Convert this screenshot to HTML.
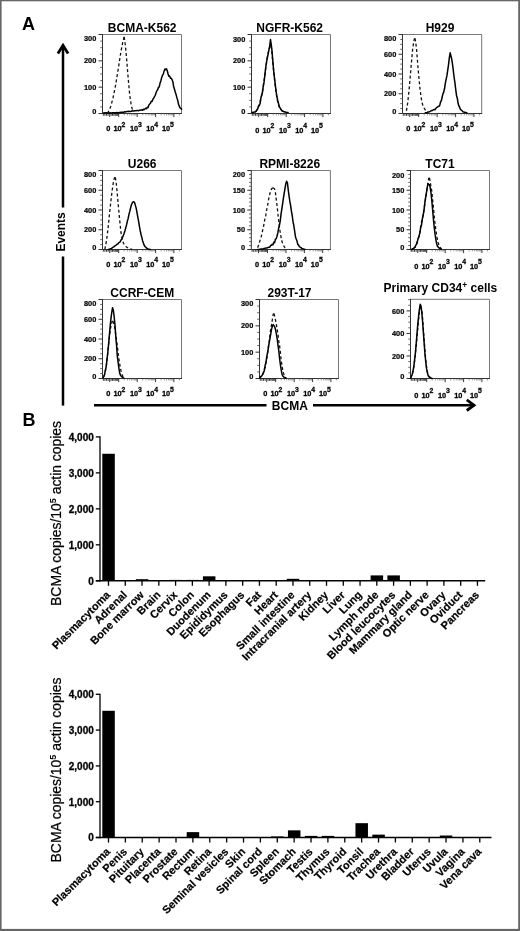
<!DOCTYPE html>
<html lang="en"><head><meta charset="utf-8"><title>BCMA expression figure</title>
<style>html,body{margin:0;padding:0;background:#fff;}svg{display:block;}</style></head>
<body>
<svg width="520" height="931" viewBox="0 0 520 931" font-family='"Liberation Sans", Arial, Helvetica, sans-serif' fill="#000">
<rect x="0" y="0" width="520" height="931" fill="#fff"/>
<text x="22" y="30.3" font-size="18" font-weight="bold">A</text>
<text x="22.4" y="426.1" font-size="18" font-weight="bold">B</text>
<g stroke="#000" fill="none" stroke-width="2.5"><line x1="63" y1="45.5" x2="63" y2="207.5"/><line x1="63" y1="256.5" x2="63" y2="405.6"/><polyline points="57.9,53.4 63,45.4 68.1,53.4" stroke-width="2.8" stroke-linejoin="miter"/></g>
<text transform="translate(65.1 251.6) rotate(-90)" font-size="12" font-weight="bold">Events</text>
<g stroke="#000" fill="none" stroke-width="2.4"><line x1="94" y1="405.2" x2="266.5" y2="405.2"/><line x1="313" y1="405.2" x2="474.5" y2="405.2"/><polyline points="466.8,399.9 474.0,405.2 466.8,410.5" stroke-width="2.8" stroke-linejoin="miter"/></g>
<text x="289.8" y="409.6" text-anchor="middle" font-size="12" font-weight="bold">BCMA</text>
<g><text x="142.2" y="31.9" text-anchor="middle" font-size="12" font-weight="bold">BCMA-K562</text>
<path d="M102.5 34.5H181.5V113.5" fill="none" stroke="#777" stroke-width="1"/>
<path d="M102.5 34V113.5H182" fill="none" stroke="#333" stroke-width="1"/>
<text x="96.3" y="113.9" text-anchor="end" font-size="7.4" font-weight="bold" stroke="#000" stroke-width="0.2">0</text>
<line x1="98.5" y1="113.5" x2="102.5" y2="113.5" stroke="#333" stroke-width="1"/>
<text x="96.3" y="89.77" text-anchor="end" font-size="7.4" font-weight="bold" stroke="#000" stroke-width="0.2">100</text>
<line x1="98.5" y1="87.17" x2="102.5" y2="87.17" stroke="#333" stroke-width="1"/>
<text x="96.3" y="63.44" text-anchor="end" font-size="7.4" font-weight="bold" stroke="#000" stroke-width="0.2">200</text>
<line x1="98.5" y1="60.84" x2="102.5" y2="60.84" stroke="#333" stroke-width="1"/>
<text x="96.3" y="40.71" text-anchor="end" font-size="7.4" font-weight="bold" stroke="#000" stroke-width="0.2">300</text>
<line x1="98.5" y1="34.51" x2="102.5" y2="34.51" stroke="#333" stroke-width="1"/>
<line x1="100.2" y1="106.92" x2="102.5" y2="106.92" stroke="#444" stroke-width="0.8"/>
<line x1="100.2" y1="100.34" x2="102.5" y2="100.34" stroke="#444" stroke-width="0.8"/>
<line x1="100.2" y1="93.75" x2="102.5" y2="93.75" stroke="#444" stroke-width="0.8"/>
<line x1="100.2" y1="80.59" x2="102.5" y2="80.59" stroke="#444" stroke-width="0.8"/>
<line x1="100.2" y1="74.01" x2="102.5" y2="74.01" stroke="#444" stroke-width="0.8"/>
<line x1="100.2" y1="67.42" x2="102.5" y2="67.42" stroke="#444" stroke-width="0.8"/>
<line x1="100.2" y1="54.26" x2="102.5" y2="54.26" stroke="#444" stroke-width="0.8"/>
<line x1="100.2" y1="47.68" x2="102.5" y2="47.68" stroke="#444" stroke-width="0.8"/>
<line x1="100.2" y1="41.09" x2="102.5" y2="41.09" stroke="#444" stroke-width="0.8"/>
<line x1="109.7" y1="113.5" x2="109.7" y2="117.1" stroke="#222" stroke-width="0.9"/>
<line x1="118.7" y1="113.5" x2="118.7" y2="117.1" stroke="#222" stroke-width="0.9"/>
<line x1="137.2" y1="113.5" x2="137.2" y2="117.1" stroke="#222" stroke-width="0.9"/>
<line x1="155.6" y1="113.5" x2="155.6" y2="117.1" stroke="#222" stroke-width="0.9"/>
<line x1="173.9" y1="113.5" x2="173.9" y2="117.1" stroke="#222" stroke-width="0.9"/>
<line x1="103.3" y1="113.5" x2="103.3" y2="115.8" stroke="#222" stroke-width="0.9"/>
<line x1="104.9" y1="113.5" x2="104.9" y2="115.8" stroke="#222" stroke-width="0.9"/>
<line x1="106.5" y1="113.5" x2="106.5" y2="115.8" stroke="#222" stroke-width="0.9"/>
<line x1="108.1" y1="113.5" x2="108.1" y2="115.8" stroke="#222" stroke-width="0.9"/>
<line x1="111.1" y1="113.5" x2="111.1" y2="115.8" stroke="#222" stroke-width="0.9"/>
<line x1="112.5" y1="113.5" x2="112.5" y2="115.8" stroke="#222" stroke-width="0.9"/>
<line x1="113.9" y1="113.5" x2="113.9" y2="115.8" stroke="#222" stroke-width="0.9"/>
<line x1="115.1" y1="113.5" x2="115.1" y2="115.8" stroke="#222" stroke-width="0.9"/>
<line x1="116.1" y1="113.5" x2="116.1" y2="115.8" stroke="#222" stroke-width="0.9"/>
<line x1="117" y1="113.5" x2="117" y2="115.8" stroke="#222" stroke-width="0.9"/>
<line x1="117.9" y1="113.5" x2="117.9" y2="115.8" stroke="#222" stroke-width="0.9"/>
<line x1="124.21" y1="113.5" x2="124.21" y2="115.4" stroke="#555" stroke-width="0.6"/>
<line x1="127.43" y1="113.5" x2="127.43" y2="115.4" stroke="#555" stroke-width="0.6"/>
<line x1="129.72" y1="113.5" x2="129.72" y2="115.4" stroke="#555" stroke-width="0.6"/>
<line x1="131.49" y1="113.5" x2="131.49" y2="115.4" stroke="#555" stroke-width="0.6"/>
<line x1="132.94" y1="113.5" x2="132.94" y2="115.4" stroke="#555" stroke-width="0.6"/>
<line x1="134.17" y1="113.5" x2="134.17" y2="115.4" stroke="#555" stroke-width="0.6"/>
<line x1="135.23" y1="113.5" x2="135.23" y2="115.4" stroke="#555" stroke-width="0.6"/>
<line x1="136.16" y1="113.5" x2="136.16" y2="115.4" stroke="#555" stroke-width="0.6"/>
<line x1="142.71" y1="113.5" x2="142.71" y2="115.4" stroke="#555" stroke-width="0.6"/>
<line x1="145.93" y1="113.5" x2="145.93" y2="115.4" stroke="#555" stroke-width="0.6"/>
<line x1="148.22" y1="113.5" x2="148.22" y2="115.4" stroke="#555" stroke-width="0.6"/>
<line x1="149.99" y1="113.5" x2="149.99" y2="115.4" stroke="#555" stroke-width="0.6"/>
<line x1="151.44" y1="113.5" x2="151.44" y2="115.4" stroke="#555" stroke-width="0.6"/>
<line x1="152.67" y1="113.5" x2="152.67" y2="115.4" stroke="#555" stroke-width="0.6"/>
<line x1="153.73" y1="113.5" x2="153.73" y2="115.4" stroke="#555" stroke-width="0.6"/>
<line x1="154.66" y1="113.5" x2="154.66" y2="115.4" stroke="#555" stroke-width="0.6"/>
<line x1="161.11" y1="113.5" x2="161.11" y2="115.4" stroke="#555" stroke-width="0.6"/>
<line x1="164.33" y1="113.5" x2="164.33" y2="115.4" stroke="#555" stroke-width="0.6"/>
<line x1="166.62" y1="113.5" x2="166.62" y2="115.4" stroke="#555" stroke-width="0.6"/>
<line x1="168.39" y1="113.5" x2="168.39" y2="115.4" stroke="#555" stroke-width="0.6"/>
<line x1="169.84" y1="113.5" x2="169.84" y2="115.4" stroke="#555" stroke-width="0.6"/>
<line x1="171.07" y1="113.5" x2="171.07" y2="115.4" stroke="#555" stroke-width="0.6"/>
<line x1="172.13" y1="113.5" x2="172.13" y2="115.4" stroke="#555" stroke-width="0.6"/>
<line x1="173.06" y1="113.5" x2="173.06" y2="115.4" stroke="#555" stroke-width="0.6"/>
<line x1="179.41" y1="113.5" x2="179.41" y2="115.4" stroke="#555" stroke-width="0.6"/>
<text transform="translate(108.3 131) scale(1.06 1)" text-anchor="middle" font-size="7" font-weight="bold" stroke="#000" stroke-width="0.25">0</text>
<text transform="translate(117.5 131) scale(1.06 1)" text-anchor="middle" font-size="7" font-weight="bold" stroke="#000" stroke-width="0.25">10</text>
<text transform="translate(123.4 127) scale(1.06 1)" text-anchor="middle" font-size="6.5" font-weight="bold" stroke="#000" stroke-width="0.25">2</text>
<text transform="translate(134 131) scale(1.06 1)" text-anchor="middle" font-size="7" font-weight="bold" stroke="#000" stroke-width="0.25">10</text>
<text transform="translate(139.9 127) scale(1.06 1)" text-anchor="middle" font-size="6.5" font-weight="bold" stroke="#000" stroke-width="0.25">3</text>
<text transform="translate(150.3 131) scale(1.06 1)" text-anchor="middle" font-size="7" font-weight="bold" stroke="#000" stroke-width="0.25">10</text>
<text transform="translate(156.2 127) scale(1.06 1)" text-anchor="middle" font-size="6.5" font-weight="bold" stroke="#000" stroke-width="0.25">4</text>
<text transform="translate(166.1 131) scale(1.06 1)" text-anchor="middle" font-size="7" font-weight="bold" stroke="#000" stroke-width="0.25">10</text>
<text transform="translate(172 127) scale(1.06 1)" text-anchor="middle" font-size="6.5" font-weight="bold" stroke="#000" stroke-width="0.25">5</text>
<path d="M124.17 36.94 L123.37 39.98 L122.57 43.02 L121.77 47.3 L120.97 51.61 L120.17 56.25 L119.37 61.58 L118.57 66.92 L117.77 72.11 L116.97 76.91 L116.17 81.71 L115.37 86.36 L114.57 90.36 L113.77 94.36 L112.97 98.22 L112.17 101.15 L111.37 104.08 L110.57 106.94 L109.77 108.7 L108.97 110.46 L108.17 112.22" fill="none" stroke="#111" stroke-width="1.3" stroke-dasharray="3 2.4" stroke-linejoin="round"/>
<path d="M124.17 36.94 L124.97 42.22 L125.77 49.62 L126.57 58.62 L127.37 68.33 L128.17 78.04 L128.97 86.84 L129.77 95.53 L130.57 100.73 L131.37 105.93 L132.17 108.67 L132.97 110.73 L133.77 111.61" fill="none" stroke="#111" stroke-width="1.3" stroke-dasharray="3 2.4" stroke-linejoin="round"/>
<path d="M103.27 112.91 L104.07 112.93 L104.87 112.83 L105.67 112.93 L106.47 112.83 L107.27 112.86 L108.07 112.91 L108.87 112.81 L109.67 112.9 L110.47 112.81 L111.27 112.88 L112.07 112.87 L112.87 112.78 L113.67 112.69 L114.47 112.84 L115.27 112.8 L116.07 112.7 L116.87 112.62 L117.67 112.7 L118.47 112.68 L119.27 112.41 L120.07 112.59 L120.87 112.23 L121.67 112.33 L122.47 112.29 L123.27 112.22 L124.07 112.04 L124.87 111.69 L125.67 111.9 L126.47 111.57 L127.27 111.42 L128.07 111.47 L128.87 111.24 L129.67 111.47 L130.47 111.38 L131.27 111.23 L132.07 110.82 L132.87 110.96 L133.67 111 L134.47 110.73 L135.27 110.78 L136.07 110.86 L136.87 110.38 L137.67 110.4 L138.47 110.73 L139.27 110.35 L140.07 110.32 L140.87 109.89 L141.67 109.95 L142.47 110.32 L143.27 109.18 L144.07 109.82 L144.87 109.07 L145.67 108.19 L146.47 108.75 L147.27 107.37 L148.07 107.41 L148.87 105.11 L149.67 103.95 L150.47 103.28 L151.27 101.35 L152.07 101.5 L152.87 99.39 L153.67 98.16 L154.47 96.59 L155.27 95.29 L156.07 92.77 L156.87 90.68 L157.67 89.81 L158.47 87.35 L159.27 86.8 L160.07 83.06 L160.87 80.79 L161.67 77.56 L162.47 75.45 L163.27 74.07 L164.07 71.17 L164.87 68.98 L165.67 69.64 L166.47 68.83 L167.27 70.7 L168.07 74.02 L168.87 76.17 L169.67 75.91 L170.47 78.17 L171.27 78.21 L172.07 79.79 L172.87 81.68 L173.67 86.78 L174.47 89.22 L175.27 92.29 L176.07 94.48 L176.87 97.64 L177.67 100.18 L178.47 104.05 L179.27 106.17 L180.07 107.84 L180.87 108.69 L181.67 109.13" fill="none" stroke="#000" stroke-width="1.5" stroke-linejoin="round" stroke-linecap="round"/></g>
<g><text x="289.7" y="31.9" text-anchor="middle" font-size="12" font-weight="bold">NGFR-K562</text>
<path d="M251.5 34.5H330.5V113.5" fill="none" stroke="#777" stroke-width="1"/>
<path d="M251.5 34V113.5H331" fill="none" stroke="#333" stroke-width="1"/>
<text x="245.3" y="113.9" text-anchor="end" font-size="7.4" font-weight="bold" stroke="#000" stroke-width="0.2">0</text>
<line x1="247.5" y1="113.5" x2="251.5" y2="113.5" stroke="#333" stroke-width="1"/>
<text x="245.3" y="89.77" text-anchor="end" font-size="7.4" font-weight="bold" stroke="#000" stroke-width="0.2">100</text>
<line x1="247.5" y1="87.17" x2="251.5" y2="87.17" stroke="#333" stroke-width="1"/>
<text x="245.3" y="63.44" text-anchor="end" font-size="7.4" font-weight="bold" stroke="#000" stroke-width="0.2">200</text>
<line x1="247.5" y1="60.84" x2="251.5" y2="60.84" stroke="#333" stroke-width="1"/>
<text x="245.3" y="42.11" text-anchor="end" font-size="7.4" font-weight="bold" stroke="#000" stroke-width="0.2">300</text>
<line x1="247.5" y1="34.51" x2="251.5" y2="34.51" stroke="#333" stroke-width="1"/>
<line x1="249.2" y1="106.92" x2="251.5" y2="106.92" stroke="#444" stroke-width="0.8"/>
<line x1="249.2" y1="100.34" x2="251.5" y2="100.34" stroke="#444" stroke-width="0.8"/>
<line x1="249.2" y1="93.75" x2="251.5" y2="93.75" stroke="#444" stroke-width="0.8"/>
<line x1="249.2" y1="80.59" x2="251.5" y2="80.59" stroke="#444" stroke-width="0.8"/>
<line x1="249.2" y1="74.01" x2="251.5" y2="74.01" stroke="#444" stroke-width="0.8"/>
<line x1="249.2" y1="67.42" x2="251.5" y2="67.42" stroke="#444" stroke-width="0.8"/>
<line x1="249.2" y1="54.26" x2="251.5" y2="54.26" stroke="#444" stroke-width="0.8"/>
<line x1="249.2" y1="47.68" x2="251.5" y2="47.68" stroke="#444" stroke-width="0.8"/>
<line x1="249.2" y1="41.09" x2="251.5" y2="41.09" stroke="#444" stroke-width="0.8"/>
<line x1="258.7" y1="113.5" x2="258.7" y2="117.1" stroke="#222" stroke-width="0.9"/>
<line x1="267.7" y1="113.5" x2="267.7" y2="117.1" stroke="#222" stroke-width="0.9"/>
<line x1="286.2" y1="113.5" x2="286.2" y2="117.1" stroke="#222" stroke-width="0.9"/>
<line x1="304.6" y1="113.5" x2="304.6" y2="117.1" stroke="#222" stroke-width="0.9"/>
<line x1="322.9" y1="113.5" x2="322.9" y2="117.1" stroke="#222" stroke-width="0.9"/>
<line x1="252.3" y1="113.5" x2="252.3" y2="115.8" stroke="#222" stroke-width="0.9"/>
<line x1="253.9" y1="113.5" x2="253.9" y2="115.8" stroke="#222" stroke-width="0.9"/>
<line x1="255.5" y1="113.5" x2="255.5" y2="115.8" stroke="#222" stroke-width="0.9"/>
<line x1="257.1" y1="113.5" x2="257.1" y2="115.8" stroke="#222" stroke-width="0.9"/>
<line x1="260.1" y1="113.5" x2="260.1" y2="115.8" stroke="#222" stroke-width="0.9"/>
<line x1="261.5" y1="113.5" x2="261.5" y2="115.8" stroke="#222" stroke-width="0.9"/>
<line x1="262.9" y1="113.5" x2="262.9" y2="115.8" stroke="#222" stroke-width="0.9"/>
<line x1="264.1" y1="113.5" x2="264.1" y2="115.8" stroke="#222" stroke-width="0.9"/>
<line x1="265.1" y1="113.5" x2="265.1" y2="115.8" stroke="#222" stroke-width="0.9"/>
<line x1="266" y1="113.5" x2="266" y2="115.8" stroke="#222" stroke-width="0.9"/>
<line x1="266.9" y1="113.5" x2="266.9" y2="115.8" stroke="#222" stroke-width="0.9"/>
<line x1="273.21" y1="113.5" x2="273.21" y2="115.4" stroke="#555" stroke-width="0.6"/>
<line x1="276.43" y1="113.5" x2="276.43" y2="115.4" stroke="#555" stroke-width="0.6"/>
<line x1="278.72" y1="113.5" x2="278.72" y2="115.4" stroke="#555" stroke-width="0.6"/>
<line x1="280.49" y1="113.5" x2="280.49" y2="115.4" stroke="#555" stroke-width="0.6"/>
<line x1="281.94" y1="113.5" x2="281.94" y2="115.4" stroke="#555" stroke-width="0.6"/>
<line x1="283.17" y1="113.5" x2="283.17" y2="115.4" stroke="#555" stroke-width="0.6"/>
<line x1="284.23" y1="113.5" x2="284.23" y2="115.4" stroke="#555" stroke-width="0.6"/>
<line x1="285.16" y1="113.5" x2="285.16" y2="115.4" stroke="#555" stroke-width="0.6"/>
<line x1="291.71" y1="113.5" x2="291.71" y2="115.4" stroke="#555" stroke-width="0.6"/>
<line x1="294.93" y1="113.5" x2="294.93" y2="115.4" stroke="#555" stroke-width="0.6"/>
<line x1="297.22" y1="113.5" x2="297.22" y2="115.4" stroke="#555" stroke-width="0.6"/>
<line x1="298.99" y1="113.5" x2="298.99" y2="115.4" stroke="#555" stroke-width="0.6"/>
<line x1="300.44" y1="113.5" x2="300.44" y2="115.4" stroke="#555" stroke-width="0.6"/>
<line x1="301.67" y1="113.5" x2="301.67" y2="115.4" stroke="#555" stroke-width="0.6"/>
<line x1="302.73" y1="113.5" x2="302.73" y2="115.4" stroke="#555" stroke-width="0.6"/>
<line x1="303.66" y1="113.5" x2="303.66" y2="115.4" stroke="#555" stroke-width="0.6"/>
<line x1="310.11" y1="113.5" x2="310.11" y2="115.4" stroke="#555" stroke-width="0.6"/>
<line x1="313.33" y1="113.5" x2="313.33" y2="115.4" stroke="#555" stroke-width="0.6"/>
<line x1="315.62" y1="113.5" x2="315.62" y2="115.4" stroke="#555" stroke-width="0.6"/>
<line x1="317.39" y1="113.5" x2="317.39" y2="115.4" stroke="#555" stroke-width="0.6"/>
<line x1="318.84" y1="113.5" x2="318.84" y2="115.4" stroke="#555" stroke-width="0.6"/>
<line x1="320.07" y1="113.5" x2="320.07" y2="115.4" stroke="#555" stroke-width="0.6"/>
<line x1="321.13" y1="113.5" x2="321.13" y2="115.4" stroke="#555" stroke-width="0.6"/>
<line x1="322.06" y1="113.5" x2="322.06" y2="115.4" stroke="#555" stroke-width="0.6"/>
<line x1="328.41" y1="113.5" x2="328.41" y2="115.4" stroke="#555" stroke-width="0.6"/>
<text transform="translate(257.3 133.1) scale(1.06 1)" text-anchor="middle" font-size="7" font-weight="bold" stroke="#000" stroke-width="0.25">0</text>
<text transform="translate(266.5 133.1) scale(1.06 1)" text-anchor="middle" font-size="7" font-weight="bold" stroke="#000" stroke-width="0.25">10</text>
<text transform="translate(272.4 127.9) scale(1.06 1)" text-anchor="middle" font-size="6.5" font-weight="bold" stroke="#000" stroke-width="0.25">2</text>
<text transform="translate(283 133.1) scale(1.06 1)" text-anchor="middle" font-size="7" font-weight="bold" stroke="#000" stroke-width="0.25">10</text>
<text transform="translate(288.9 127.9) scale(1.06 1)" text-anchor="middle" font-size="6.5" font-weight="bold" stroke="#000" stroke-width="0.25">3</text>
<text transform="translate(299.3 133.1) scale(1.06 1)" text-anchor="middle" font-size="7" font-weight="bold" stroke="#000" stroke-width="0.25">10</text>
<text transform="translate(305.2 127.9) scale(1.06 1)" text-anchor="middle" font-size="6.5" font-weight="bold" stroke="#000" stroke-width="0.25">4</text>
<text transform="translate(315.1 133.1) scale(1.06 1)" text-anchor="middle" font-size="7" font-weight="bold" stroke="#000" stroke-width="0.25">10</text>
<text transform="translate(321 127.9) scale(1.06 1)" text-anchor="middle" font-size="6.5" font-weight="bold" stroke="#000" stroke-width="0.25">5</text>
<path d="M270.49 46.46 L269.69 47.05 L268.89 49.97 L268.09 53.32 L267.29 57.2 L266.49 62.89 L265.69 68.24 L264.89 75.29 L264.09 80.3 L263.29 86.39 L262.49 91.04 L261.69 95.07 L260.89 98.56 L260.09 101.85 L259.29 104.83 L258.49 107.19 L257.69 109.07 L256.89 110.23 L256.09 111.39 L255.29 111.69 L254.49 112.03 L253.69 112.27 L252.89 112.52 L252.09 112.77" fill="none" stroke="#111" stroke-width="1.3" stroke-dasharray="3 2.4" stroke-linejoin="round"/>
<path d="M270.49 46.46 L271.29 46.79 L272.09 54.7 L272.89 62.61 L273.69 71.39 L274.49 78.98 L275.29 85.89 L276.09 92.3 L276.89 97.99 L277.69 101.57 L278.49 104.74 L279.29 106.38 L280.09 108.7 L280.89 108.84 L281.69 110.06 L282.49 111.16 L283.29 111.44 L284.09 111.74 L284.89 112.08 L285.69 112.48" fill="none" stroke="#111" stroke-width="1.3" stroke-dasharray="3 2.4" stroke-linejoin="round"/>
<path d="M252.09 112.63 L252.89 112.32 L253.69 112.24 L254.49 112 L255.29 111.97 L256.09 111.08 L256.89 109.87 L257.69 108.97 L258.49 105.98 L259.29 105.33 L260.09 103.53 L260.89 97.95 L261.69 95.27 L262.49 92.28 L263.29 86 L264.09 81.9 L264.89 74.92 L265.69 67.84 L266.49 62.38 L267.29 57.98 L268.09 54.37 L268.89 50.12 L269.69 46.05 L270.49 39.6 L271.29 44.94 L272.09 51.71 L272.89 61.92 L273.69 71.18 L274.49 78.02 L275.29 84.8 L276.09 91.42 L276.89 96.33 L277.69 100.4 L278.49 103.26 L279.29 107.07 L280.09 107.88 L280.89 109.33 L281.69 110.67 L282.49 111.08 L283.29 111.32 L284.09 111.78 L284.89 112 L285.69 112.07 L286.49 112.42 L287.29 112.44 L288.09 112.6" fill="none" stroke="#000" stroke-width="1.5" stroke-linejoin="round" stroke-linecap="round"/></g>
<g><text x="440" y="31.9" text-anchor="middle" font-size="12" font-weight="bold">H929</text>
<path d="M402.5 34.5H481.7V113.5" fill="none" stroke="#777" stroke-width="1"/>
<path d="M402.5 34V113.5H482.2" fill="none" stroke="#333" stroke-width="1"/>
<text x="396.3" y="113.9" text-anchor="end" font-size="7.4" font-weight="bold" stroke="#000" stroke-width="0.2">0</text>
<line x1="398.5" y1="113.5" x2="402.5" y2="113.5" stroke="#333" stroke-width="1"/>
<text x="396.3" y="96.35" text-anchor="end" font-size="7.4" font-weight="bold" stroke="#000" stroke-width="0.2">200</text>
<line x1="398.5" y1="93.75" x2="402.5" y2="93.75" stroke="#333" stroke-width="1"/>
<text x="396.3" y="76.6" text-anchor="end" font-size="7.4" font-weight="bold" stroke="#000" stroke-width="0.2">400</text>
<line x1="398.5" y1="74" x2="402.5" y2="74" stroke="#333" stroke-width="1"/>
<text x="396.3" y="56.85" text-anchor="end" font-size="7.4" font-weight="bold" stroke="#000" stroke-width="0.2">600</text>
<line x1="398.5" y1="54.25" x2="402.5" y2="54.25" stroke="#333" stroke-width="1"/>
<text x="396.3" y="40.7" text-anchor="end" font-size="7.4" font-weight="bold" stroke="#000" stroke-width="0.2">800</text>
<line x1="398.5" y1="34.5" x2="402.5" y2="34.5" stroke="#333" stroke-width="1"/>
<line x1="400.2" y1="108.56" x2="402.5" y2="108.56" stroke="#444" stroke-width="0.8"/>
<line x1="400.2" y1="103.62" x2="402.5" y2="103.62" stroke="#444" stroke-width="0.8"/>
<line x1="400.2" y1="98.69" x2="402.5" y2="98.69" stroke="#444" stroke-width="0.8"/>
<line x1="400.2" y1="88.81" x2="402.5" y2="88.81" stroke="#444" stroke-width="0.8"/>
<line x1="400.2" y1="83.88" x2="402.5" y2="83.88" stroke="#444" stroke-width="0.8"/>
<line x1="400.2" y1="78.94" x2="402.5" y2="78.94" stroke="#444" stroke-width="0.8"/>
<line x1="400.2" y1="69.06" x2="402.5" y2="69.06" stroke="#444" stroke-width="0.8"/>
<line x1="400.2" y1="64.12" x2="402.5" y2="64.12" stroke="#444" stroke-width="0.8"/>
<line x1="400.2" y1="59.19" x2="402.5" y2="59.19" stroke="#444" stroke-width="0.8"/>
<line x1="400.2" y1="49.31" x2="402.5" y2="49.31" stroke="#444" stroke-width="0.8"/>
<line x1="400.2" y1="44.38" x2="402.5" y2="44.38" stroke="#444" stroke-width="0.8"/>
<line x1="400.2" y1="39.44" x2="402.5" y2="39.44" stroke="#444" stroke-width="0.8"/>
<line x1="409.7" y1="113.5" x2="409.7" y2="117.1" stroke="#222" stroke-width="0.9"/>
<line x1="418.7" y1="113.5" x2="418.7" y2="117.1" stroke="#222" stroke-width="0.9"/>
<line x1="437.2" y1="113.5" x2="437.2" y2="117.1" stroke="#222" stroke-width="0.9"/>
<line x1="455.6" y1="113.5" x2="455.6" y2="117.1" stroke="#222" stroke-width="0.9"/>
<line x1="473.9" y1="113.5" x2="473.9" y2="117.1" stroke="#222" stroke-width="0.9"/>
<line x1="403.3" y1="113.5" x2="403.3" y2="115.8" stroke="#222" stroke-width="0.9"/>
<line x1="404.9" y1="113.5" x2="404.9" y2="115.8" stroke="#222" stroke-width="0.9"/>
<line x1="406.5" y1="113.5" x2="406.5" y2="115.8" stroke="#222" stroke-width="0.9"/>
<line x1="408.1" y1="113.5" x2="408.1" y2="115.8" stroke="#222" stroke-width="0.9"/>
<line x1="411.1" y1="113.5" x2="411.1" y2="115.8" stroke="#222" stroke-width="0.9"/>
<line x1="412.5" y1="113.5" x2="412.5" y2="115.8" stroke="#222" stroke-width="0.9"/>
<line x1="413.9" y1="113.5" x2="413.9" y2="115.8" stroke="#222" stroke-width="0.9"/>
<line x1="415.1" y1="113.5" x2="415.1" y2="115.8" stroke="#222" stroke-width="0.9"/>
<line x1="416.1" y1="113.5" x2="416.1" y2="115.8" stroke="#222" stroke-width="0.9"/>
<line x1="417" y1="113.5" x2="417" y2="115.8" stroke="#222" stroke-width="0.9"/>
<line x1="417.9" y1="113.5" x2="417.9" y2="115.8" stroke="#222" stroke-width="0.9"/>
<line x1="424.21" y1="113.5" x2="424.21" y2="115.4" stroke="#555" stroke-width="0.6"/>
<line x1="427.43" y1="113.5" x2="427.43" y2="115.4" stroke="#555" stroke-width="0.6"/>
<line x1="429.72" y1="113.5" x2="429.72" y2="115.4" stroke="#555" stroke-width="0.6"/>
<line x1="431.49" y1="113.5" x2="431.49" y2="115.4" stroke="#555" stroke-width="0.6"/>
<line x1="432.94" y1="113.5" x2="432.94" y2="115.4" stroke="#555" stroke-width="0.6"/>
<line x1="434.17" y1="113.5" x2="434.17" y2="115.4" stroke="#555" stroke-width="0.6"/>
<line x1="435.23" y1="113.5" x2="435.23" y2="115.4" stroke="#555" stroke-width="0.6"/>
<line x1="436.16" y1="113.5" x2="436.16" y2="115.4" stroke="#555" stroke-width="0.6"/>
<line x1="442.71" y1="113.5" x2="442.71" y2="115.4" stroke="#555" stroke-width="0.6"/>
<line x1="445.93" y1="113.5" x2="445.93" y2="115.4" stroke="#555" stroke-width="0.6"/>
<line x1="448.22" y1="113.5" x2="448.22" y2="115.4" stroke="#555" stroke-width="0.6"/>
<line x1="449.99" y1="113.5" x2="449.99" y2="115.4" stroke="#555" stroke-width="0.6"/>
<line x1="451.44" y1="113.5" x2="451.44" y2="115.4" stroke="#555" stroke-width="0.6"/>
<line x1="452.67" y1="113.5" x2="452.67" y2="115.4" stroke="#555" stroke-width="0.6"/>
<line x1="453.73" y1="113.5" x2="453.73" y2="115.4" stroke="#555" stroke-width="0.6"/>
<line x1="454.66" y1="113.5" x2="454.66" y2="115.4" stroke="#555" stroke-width="0.6"/>
<line x1="461.11" y1="113.5" x2="461.11" y2="115.4" stroke="#555" stroke-width="0.6"/>
<line x1="464.33" y1="113.5" x2="464.33" y2="115.4" stroke="#555" stroke-width="0.6"/>
<line x1="466.62" y1="113.5" x2="466.62" y2="115.4" stroke="#555" stroke-width="0.6"/>
<line x1="468.39" y1="113.5" x2="468.39" y2="115.4" stroke="#555" stroke-width="0.6"/>
<line x1="469.84" y1="113.5" x2="469.84" y2="115.4" stroke="#555" stroke-width="0.6"/>
<line x1="471.07" y1="113.5" x2="471.07" y2="115.4" stroke="#555" stroke-width="0.6"/>
<line x1="472.13" y1="113.5" x2="472.13" y2="115.4" stroke="#555" stroke-width="0.6"/>
<line x1="473.06" y1="113.5" x2="473.06" y2="115.4" stroke="#555" stroke-width="0.6"/>
<line x1="479.41" y1="113.5" x2="479.41" y2="115.4" stroke="#555" stroke-width="0.6"/>
<text transform="translate(408.3 131) scale(1.06 1)" text-anchor="middle" font-size="7" font-weight="bold" stroke="#000" stroke-width="0.25">0</text>
<text transform="translate(417.5 131) scale(1.06 1)" text-anchor="middle" font-size="7" font-weight="bold" stroke="#000" stroke-width="0.25">10</text>
<text transform="translate(423.4 127.2) scale(1.06 1)" text-anchor="middle" font-size="6.5" font-weight="bold" stroke="#000" stroke-width="0.25">2</text>
<text transform="translate(434 131) scale(1.06 1)" text-anchor="middle" font-size="7" font-weight="bold" stroke="#000" stroke-width="0.25">10</text>
<text transform="translate(439.9 127.2) scale(1.06 1)" text-anchor="middle" font-size="6.5" font-weight="bold" stroke="#000" stroke-width="0.25">3</text>
<text transform="translate(450.3 131) scale(1.06 1)" text-anchor="middle" font-size="7" font-weight="bold" stroke="#000" stroke-width="0.25">10</text>
<text transform="translate(456.2 127.2) scale(1.06 1)" text-anchor="middle" font-size="6.5" font-weight="bold" stroke="#000" stroke-width="0.25">4</text>
<text transform="translate(466.1 131) scale(1.06 1)" text-anchor="middle" font-size="7" font-weight="bold" stroke="#000" stroke-width="0.25">10</text>
<text transform="translate(472 127.2) scale(1.06 1)" text-anchor="middle" font-size="6.5" font-weight="bold" stroke="#000" stroke-width="0.25">5</text>
<path d="M415.01 38.34 L414.21 39.46 L413.41 44.12 L412.61 49.5 L411.81 58.3 L411.01 67.21 L410.21 76.81 L409.41 86.27 L408.61 94.27 L407.81 102.14 L407.01 107.18 L406.21 112.22" fill="none" stroke="#111" stroke-width="1.3" stroke-dasharray="3 2.4" stroke-linejoin="round"/>
<path d="M415.01 38.34 L415.81 43.14 L416.61 49.8 L417.41 60.2 L418.21 70.13 L419.01 78.93 L419.81 87.15 L420.61 93.55 L421.41 99.38 L422.21 102.98 L423.01 106.22 L423.81 107.55 L424.61 108.89 L425.41 110.14 L426.21 110.66 L427.01 111.18 L427.81 111.7" fill="none" stroke="#111" stroke-width="1.3" stroke-dasharray="3 2.4" stroke-linejoin="round"/>
<path d="M425.34 112.8 L426.14 112.66 L426.94 112.47 L427.74 112.25 L428.54 112.04 L429.34 111.81 L430.14 111.37 L430.94 110.86 L431.74 110.52 L432.54 110.42 L433.34 109.93 L434.14 109.43 L434.94 109.8 L435.74 108.62 L436.54 107.62 L437.34 107.1 L438.14 106.47 L438.94 106.28 L439.74 105.3 L440.54 101.95 L441.34 100.73 L442.14 97.21 L442.94 93.93 L443.74 92.15 L444.54 88.53 L445.34 83.18 L446.14 79.35 L446.94 75.64 L447.74 70.19 L448.54 64.6 L449.34 57.82 L450.14 52.82 L450.94 56.02 L451.74 59.06 L452.54 64.27 L453.34 70.91 L454.14 77.49 L454.94 82.96 L455.74 89.66 L456.54 95.58 L457.34 98.46 L458.14 103.55 L458.94 105.95 L459.74 107.58 L460.54 109.68 L461.34 110.03 L462.14 110.83 L462.94 111.86 L463.74 112.05 L464.54 112.25 L465.34 112.47 L466.14 112.61 L466.94 112.89" fill="none" stroke="#000" stroke-width="1.5" stroke-linejoin="round" stroke-linecap="round"/></g>
<g><text x="142.2" y="168.3" text-anchor="middle" font-size="12" font-weight="bold">U266</text>
<path d="M102.5 170.5H181.5V249.5" fill="none" stroke="#777" stroke-width="1"/>
<path d="M102.5 170V249.5H182" fill="none" stroke="#333" stroke-width="1"/>
<text x="96.3" y="249.9" text-anchor="end" font-size="7.4" font-weight="bold" stroke="#000" stroke-width="0.2">0</text>
<line x1="98.5" y1="249.5" x2="102.5" y2="249.5" stroke="#333" stroke-width="1"/>
<text x="96.3" y="232.35" text-anchor="end" font-size="7.4" font-weight="bold" stroke="#000" stroke-width="0.2">200</text>
<line x1="98.5" y1="229.75" x2="102.5" y2="229.75" stroke="#333" stroke-width="1"/>
<text x="96.3" y="212.6" text-anchor="end" font-size="7.4" font-weight="bold" stroke="#000" stroke-width="0.2">400</text>
<line x1="98.5" y1="210" x2="102.5" y2="210" stroke="#333" stroke-width="1"/>
<text x="96.3" y="192.85" text-anchor="end" font-size="7.4" font-weight="bold" stroke="#000" stroke-width="0.2">600</text>
<line x1="98.5" y1="190.25" x2="102.5" y2="190.25" stroke="#333" stroke-width="1"/>
<text x="96.3" y="176.7" text-anchor="end" font-size="7.4" font-weight="bold" stroke="#000" stroke-width="0.2">800</text>
<line x1="98.5" y1="170.5" x2="102.5" y2="170.5" stroke="#333" stroke-width="1"/>
<line x1="100.2" y1="244.56" x2="102.5" y2="244.56" stroke="#444" stroke-width="0.8"/>
<line x1="100.2" y1="239.62" x2="102.5" y2="239.62" stroke="#444" stroke-width="0.8"/>
<line x1="100.2" y1="234.69" x2="102.5" y2="234.69" stroke="#444" stroke-width="0.8"/>
<line x1="100.2" y1="224.81" x2="102.5" y2="224.81" stroke="#444" stroke-width="0.8"/>
<line x1="100.2" y1="219.88" x2="102.5" y2="219.88" stroke="#444" stroke-width="0.8"/>
<line x1="100.2" y1="214.94" x2="102.5" y2="214.94" stroke="#444" stroke-width="0.8"/>
<line x1="100.2" y1="205.06" x2="102.5" y2="205.06" stroke="#444" stroke-width="0.8"/>
<line x1="100.2" y1="200.12" x2="102.5" y2="200.12" stroke="#444" stroke-width="0.8"/>
<line x1="100.2" y1="195.19" x2="102.5" y2="195.19" stroke="#444" stroke-width="0.8"/>
<line x1="100.2" y1="185.31" x2="102.5" y2="185.31" stroke="#444" stroke-width="0.8"/>
<line x1="100.2" y1="180.38" x2="102.5" y2="180.38" stroke="#444" stroke-width="0.8"/>
<line x1="100.2" y1="175.44" x2="102.5" y2="175.44" stroke="#444" stroke-width="0.8"/>
<line x1="109.7" y1="249.5" x2="109.7" y2="253.1" stroke="#222" stroke-width="0.9"/>
<line x1="118.7" y1="249.5" x2="118.7" y2="253.1" stroke="#222" stroke-width="0.9"/>
<line x1="137.2" y1="249.5" x2="137.2" y2="253.1" stroke="#222" stroke-width="0.9"/>
<line x1="155.6" y1="249.5" x2="155.6" y2="253.1" stroke="#222" stroke-width="0.9"/>
<line x1="173.9" y1="249.5" x2="173.9" y2="253.1" stroke="#222" stroke-width="0.9"/>
<line x1="103.3" y1="249.5" x2="103.3" y2="251.8" stroke="#222" stroke-width="0.9"/>
<line x1="104.9" y1="249.5" x2="104.9" y2="251.8" stroke="#222" stroke-width="0.9"/>
<line x1="106.5" y1="249.5" x2="106.5" y2="251.8" stroke="#222" stroke-width="0.9"/>
<line x1="108.1" y1="249.5" x2="108.1" y2="251.8" stroke="#222" stroke-width="0.9"/>
<line x1="111.1" y1="249.5" x2="111.1" y2="251.8" stroke="#222" stroke-width="0.9"/>
<line x1="112.5" y1="249.5" x2="112.5" y2="251.8" stroke="#222" stroke-width="0.9"/>
<line x1="113.9" y1="249.5" x2="113.9" y2="251.8" stroke="#222" stroke-width="0.9"/>
<line x1="115.1" y1="249.5" x2="115.1" y2="251.8" stroke="#222" stroke-width="0.9"/>
<line x1="116.1" y1="249.5" x2="116.1" y2="251.8" stroke="#222" stroke-width="0.9"/>
<line x1="117" y1="249.5" x2="117" y2="251.8" stroke="#222" stroke-width="0.9"/>
<line x1="117.9" y1="249.5" x2="117.9" y2="251.8" stroke="#222" stroke-width="0.9"/>
<line x1="124.21" y1="249.5" x2="124.21" y2="251.4" stroke="#555" stroke-width="0.6"/>
<line x1="127.43" y1="249.5" x2="127.43" y2="251.4" stroke="#555" stroke-width="0.6"/>
<line x1="129.72" y1="249.5" x2="129.72" y2="251.4" stroke="#555" stroke-width="0.6"/>
<line x1="131.49" y1="249.5" x2="131.49" y2="251.4" stroke="#555" stroke-width="0.6"/>
<line x1="132.94" y1="249.5" x2="132.94" y2="251.4" stroke="#555" stroke-width="0.6"/>
<line x1="134.17" y1="249.5" x2="134.17" y2="251.4" stroke="#555" stroke-width="0.6"/>
<line x1="135.23" y1="249.5" x2="135.23" y2="251.4" stroke="#555" stroke-width="0.6"/>
<line x1="136.16" y1="249.5" x2="136.16" y2="251.4" stroke="#555" stroke-width="0.6"/>
<line x1="142.71" y1="249.5" x2="142.71" y2="251.4" stroke="#555" stroke-width="0.6"/>
<line x1="145.93" y1="249.5" x2="145.93" y2="251.4" stroke="#555" stroke-width="0.6"/>
<line x1="148.22" y1="249.5" x2="148.22" y2="251.4" stroke="#555" stroke-width="0.6"/>
<line x1="149.99" y1="249.5" x2="149.99" y2="251.4" stroke="#555" stroke-width="0.6"/>
<line x1="151.44" y1="249.5" x2="151.44" y2="251.4" stroke="#555" stroke-width="0.6"/>
<line x1="152.67" y1="249.5" x2="152.67" y2="251.4" stroke="#555" stroke-width="0.6"/>
<line x1="153.73" y1="249.5" x2="153.73" y2="251.4" stroke="#555" stroke-width="0.6"/>
<line x1="154.66" y1="249.5" x2="154.66" y2="251.4" stroke="#555" stroke-width="0.6"/>
<line x1="161.11" y1="249.5" x2="161.11" y2="251.4" stroke="#555" stroke-width="0.6"/>
<line x1="164.33" y1="249.5" x2="164.33" y2="251.4" stroke="#555" stroke-width="0.6"/>
<line x1="166.62" y1="249.5" x2="166.62" y2="251.4" stroke="#555" stroke-width="0.6"/>
<line x1="168.39" y1="249.5" x2="168.39" y2="251.4" stroke="#555" stroke-width="0.6"/>
<line x1="169.84" y1="249.5" x2="169.84" y2="251.4" stroke="#555" stroke-width="0.6"/>
<line x1="171.07" y1="249.5" x2="171.07" y2="251.4" stroke="#555" stroke-width="0.6"/>
<line x1="172.13" y1="249.5" x2="172.13" y2="251.4" stroke="#555" stroke-width="0.6"/>
<line x1="173.06" y1="249.5" x2="173.06" y2="251.4" stroke="#555" stroke-width="0.6"/>
<line x1="179.41" y1="249.5" x2="179.41" y2="251.4" stroke="#555" stroke-width="0.6"/>
<text transform="translate(108.3 267) scale(1.06 1)" text-anchor="middle" font-size="7" font-weight="bold" stroke="#000" stroke-width="0.25">0</text>
<text transform="translate(117.5 267) scale(1.06 1)" text-anchor="middle" font-size="7" font-weight="bold" stroke="#000" stroke-width="0.25">10</text>
<text transform="translate(123.4 262.4) scale(1.06 1)" text-anchor="middle" font-size="6.5" font-weight="bold" stroke="#000" stroke-width="0.25">2</text>
<text transform="translate(134 267) scale(1.06 1)" text-anchor="middle" font-size="7" font-weight="bold" stroke="#000" stroke-width="0.25">10</text>
<text transform="translate(139.9 262.4) scale(1.06 1)" text-anchor="middle" font-size="6.5" font-weight="bold" stroke="#000" stroke-width="0.25">3</text>
<text transform="translate(150.3 267) scale(1.06 1)" text-anchor="middle" font-size="7" font-weight="bold" stroke="#000" stroke-width="0.25">10</text>
<text transform="translate(156.2 262.4) scale(1.06 1)" text-anchor="middle" font-size="6.5" font-weight="bold" stroke="#000" stroke-width="0.25">4</text>
<text transform="translate(166.1 267) scale(1.06 1)" text-anchor="middle" font-size="7" font-weight="bold" stroke="#000" stroke-width="0.25">10</text>
<text transform="translate(172 262.4) scale(1.06 1)" text-anchor="middle" font-size="6.5" font-weight="bold" stroke="#000" stroke-width="0.25">5</text>
<path d="M115.3 177.48 L114.5 177.77 L113.7 180.44 L112.9 185.42 L112.1 190.87 L111.3 197.42 L110.5 204.75 L109.7 212.17 L108.9 220.17 L108.1 228.03 L107.3 234.43 L106.5 240.74 L105.7 244.98 L104.9 249.22" fill="none" stroke="#111" stroke-width="1.3" stroke-dasharray="3 2.4" stroke-linejoin="round"/>
<path d="M115.3 177.48 L116.1 181.98 L116.9 189.62 L117.7 198.61 L118.5 207.41 L119.3 216.19 L120.1 224.19 L120.9 232.19 L121.7 236.29 L122.5 240.29 L123.3 242.89 L124.1 244.22 L124.9 245.56 L125.7 246.52 L126.5 247.04 L127.3 247.56 L128.1 248.08 L128.9 248.49 L129.7 248.71 L130.5 248.94 L131.3 249.16 L132.1 249.38" fill="none" stroke="#111" stroke-width="1.3" stroke-dasharray="3 2.4" stroke-linejoin="round"/>
<path d="M108.17 249.5 L108.97 249.4 L109.77 249.05 L110.57 248.77 L111.37 248.44 L112.17 247.91 L112.97 247.28 L113.77 246.92 L114.57 246.17 L115.37 245.72 L116.17 245.02 L116.97 244.34 L117.77 244.1 L118.57 242.97 L119.37 242.46 L120.17 241.9 L120.97 240.1 L121.77 239.2 L122.57 237.19 L123.37 235.24 L124.17 233.2 L124.97 230.81 L125.77 227.91 L126.57 224.78 L127.37 221.04 L128.17 218.39 L128.97 214.41 L129.77 211.4 L130.57 207.98 L131.37 204.99 L132.17 203.14 L132.97 202.04 L133.77 201.67 L134.57 202.49 L135.37 205.39 L136.17 208.12 L136.97 212.44 L137.77 216.83 L138.57 221.19 L139.37 226.1 L140.17 230.47 L140.97 234.23 L141.77 237.36 L142.57 240.67 L143.37 242.89 L144.17 245.24 L144.97 246.52 L145.77 247.3 L146.57 248.14 L147.37 248.47 L148.17 248.85 L148.97 249.12 L149.77 249.39 L150.57 249.5" fill="none" stroke="#000" stroke-width="1.5" stroke-linejoin="round" stroke-linecap="round"/></g>
<g><text x="289.8" y="168.3" text-anchor="middle" font-size="12" font-weight="bold">RPMI-8226</text>
<path d="M251.3 170.5H330.4V249.5" fill="none" stroke="#777" stroke-width="1"/>
<path d="M251.3 170V249.5H330.9" fill="none" stroke="#333" stroke-width="1"/>
<text x="245.1" y="249.9" text-anchor="end" font-size="7.4" font-weight="bold" stroke="#000" stroke-width="0.2">0</text>
<line x1="247.3" y1="249.5" x2="251.3" y2="249.5" stroke="#333" stroke-width="1"/>
<text x="245.1" y="232.35" text-anchor="end" font-size="7.4" font-weight="bold" stroke="#000" stroke-width="0.2">50</text>
<line x1="247.3" y1="229.75" x2="251.3" y2="229.75" stroke="#333" stroke-width="1"/>
<text x="245.1" y="212.6" text-anchor="end" font-size="7.4" font-weight="bold" stroke="#000" stroke-width="0.2">100</text>
<line x1="247.3" y1="210" x2="251.3" y2="210" stroke="#333" stroke-width="1"/>
<text x="245.1" y="192.85" text-anchor="end" font-size="7.4" font-weight="bold" stroke="#000" stroke-width="0.2">150</text>
<line x1="247.3" y1="190.25" x2="251.3" y2="190.25" stroke="#333" stroke-width="1"/>
<text x="245.1" y="177.3" text-anchor="end" font-size="7.4" font-weight="bold" stroke="#000" stroke-width="0.2">200</text>
<line x1="247.3" y1="170.5" x2="251.3" y2="170.5" stroke="#333" stroke-width="1"/>
<line x1="249" y1="245.55" x2="251.3" y2="245.55" stroke="#444" stroke-width="0.8"/>
<line x1="249" y1="241.6" x2="251.3" y2="241.6" stroke="#444" stroke-width="0.8"/>
<line x1="249" y1="237.65" x2="251.3" y2="237.65" stroke="#444" stroke-width="0.8"/>
<line x1="249" y1="233.7" x2="251.3" y2="233.7" stroke="#444" stroke-width="0.8"/>
<line x1="249" y1="225.8" x2="251.3" y2="225.8" stroke="#444" stroke-width="0.8"/>
<line x1="249" y1="221.85" x2="251.3" y2="221.85" stroke="#444" stroke-width="0.8"/>
<line x1="249" y1="217.9" x2="251.3" y2="217.9" stroke="#444" stroke-width="0.8"/>
<line x1="249" y1="213.95" x2="251.3" y2="213.95" stroke="#444" stroke-width="0.8"/>
<line x1="249" y1="206.05" x2="251.3" y2="206.05" stroke="#444" stroke-width="0.8"/>
<line x1="249" y1="202.1" x2="251.3" y2="202.1" stroke="#444" stroke-width="0.8"/>
<line x1="249" y1="198.15" x2="251.3" y2="198.15" stroke="#444" stroke-width="0.8"/>
<line x1="249" y1="194.2" x2="251.3" y2="194.2" stroke="#444" stroke-width="0.8"/>
<line x1="249" y1="186.3" x2="251.3" y2="186.3" stroke="#444" stroke-width="0.8"/>
<line x1="249" y1="182.35" x2="251.3" y2="182.35" stroke="#444" stroke-width="0.8"/>
<line x1="249" y1="178.4" x2="251.3" y2="178.4" stroke="#444" stroke-width="0.8"/>
<line x1="249" y1="174.45" x2="251.3" y2="174.45" stroke="#444" stroke-width="0.8"/>
<line x1="258.5" y1="249.5" x2="258.5" y2="253.1" stroke="#222" stroke-width="0.9"/>
<line x1="267.5" y1="249.5" x2="267.5" y2="253.1" stroke="#222" stroke-width="0.9"/>
<line x1="286" y1="249.5" x2="286" y2="253.1" stroke="#222" stroke-width="0.9"/>
<line x1="304.4" y1="249.5" x2="304.4" y2="253.1" stroke="#222" stroke-width="0.9"/>
<line x1="322.7" y1="249.5" x2="322.7" y2="253.1" stroke="#222" stroke-width="0.9"/>
<line x1="252.1" y1="249.5" x2="252.1" y2="251.8" stroke="#222" stroke-width="0.9"/>
<line x1="253.7" y1="249.5" x2="253.7" y2="251.8" stroke="#222" stroke-width="0.9"/>
<line x1="255.3" y1="249.5" x2="255.3" y2="251.8" stroke="#222" stroke-width="0.9"/>
<line x1="256.9" y1="249.5" x2="256.9" y2="251.8" stroke="#222" stroke-width="0.9"/>
<line x1="259.9" y1="249.5" x2="259.9" y2="251.8" stroke="#222" stroke-width="0.9"/>
<line x1="261.3" y1="249.5" x2="261.3" y2="251.8" stroke="#222" stroke-width="0.9"/>
<line x1="262.7" y1="249.5" x2="262.7" y2="251.8" stroke="#222" stroke-width="0.9"/>
<line x1="263.9" y1="249.5" x2="263.9" y2="251.8" stroke="#222" stroke-width="0.9"/>
<line x1="264.9" y1="249.5" x2="264.9" y2="251.8" stroke="#222" stroke-width="0.9"/>
<line x1="265.8" y1="249.5" x2="265.8" y2="251.8" stroke="#222" stroke-width="0.9"/>
<line x1="266.7" y1="249.5" x2="266.7" y2="251.8" stroke="#222" stroke-width="0.9"/>
<line x1="273.01" y1="249.5" x2="273.01" y2="251.4" stroke="#555" stroke-width="0.6"/>
<line x1="276.23" y1="249.5" x2="276.23" y2="251.4" stroke="#555" stroke-width="0.6"/>
<line x1="278.52" y1="249.5" x2="278.52" y2="251.4" stroke="#555" stroke-width="0.6"/>
<line x1="280.29" y1="249.5" x2="280.29" y2="251.4" stroke="#555" stroke-width="0.6"/>
<line x1="281.74" y1="249.5" x2="281.74" y2="251.4" stroke="#555" stroke-width="0.6"/>
<line x1="282.97" y1="249.5" x2="282.97" y2="251.4" stroke="#555" stroke-width="0.6"/>
<line x1="284.03" y1="249.5" x2="284.03" y2="251.4" stroke="#555" stroke-width="0.6"/>
<line x1="284.96" y1="249.5" x2="284.96" y2="251.4" stroke="#555" stroke-width="0.6"/>
<line x1="291.51" y1="249.5" x2="291.51" y2="251.4" stroke="#555" stroke-width="0.6"/>
<line x1="294.73" y1="249.5" x2="294.73" y2="251.4" stroke="#555" stroke-width="0.6"/>
<line x1="297.02" y1="249.5" x2="297.02" y2="251.4" stroke="#555" stroke-width="0.6"/>
<line x1="298.79" y1="249.5" x2="298.79" y2="251.4" stroke="#555" stroke-width="0.6"/>
<line x1="300.24" y1="249.5" x2="300.24" y2="251.4" stroke="#555" stroke-width="0.6"/>
<line x1="301.47" y1="249.5" x2="301.47" y2="251.4" stroke="#555" stroke-width="0.6"/>
<line x1="302.53" y1="249.5" x2="302.53" y2="251.4" stroke="#555" stroke-width="0.6"/>
<line x1="303.46" y1="249.5" x2="303.46" y2="251.4" stroke="#555" stroke-width="0.6"/>
<line x1="309.91" y1="249.5" x2="309.91" y2="251.4" stroke="#555" stroke-width="0.6"/>
<line x1="313.13" y1="249.5" x2="313.13" y2="251.4" stroke="#555" stroke-width="0.6"/>
<line x1="315.42" y1="249.5" x2="315.42" y2="251.4" stroke="#555" stroke-width="0.6"/>
<line x1="317.19" y1="249.5" x2="317.19" y2="251.4" stroke="#555" stroke-width="0.6"/>
<line x1="318.64" y1="249.5" x2="318.64" y2="251.4" stroke="#555" stroke-width="0.6"/>
<line x1="319.87" y1="249.5" x2="319.87" y2="251.4" stroke="#555" stroke-width="0.6"/>
<line x1="320.93" y1="249.5" x2="320.93" y2="251.4" stroke="#555" stroke-width="0.6"/>
<line x1="321.86" y1="249.5" x2="321.86" y2="251.4" stroke="#555" stroke-width="0.6"/>
<line x1="328.21" y1="249.5" x2="328.21" y2="251.4" stroke="#555" stroke-width="0.6"/>
<text transform="translate(257.1 267) scale(1.06 1)" text-anchor="middle" font-size="7" font-weight="bold" stroke="#000" stroke-width="0.25">0</text>
<text transform="translate(266.3 267) scale(1.06 1)" text-anchor="middle" font-size="7" font-weight="bold" stroke="#000" stroke-width="0.25">10</text>
<text transform="translate(272.2 262.4) scale(1.06 1)" text-anchor="middle" font-size="6.5" font-weight="bold" stroke="#000" stroke-width="0.25">2</text>
<text transform="translate(282.8 267) scale(1.06 1)" text-anchor="middle" font-size="7" font-weight="bold" stroke="#000" stroke-width="0.25">10</text>
<text transform="translate(288.7 262.4) scale(1.06 1)" text-anchor="middle" font-size="6.5" font-weight="bold" stroke="#000" stroke-width="0.25">3</text>
<text transform="translate(299.1 267) scale(1.06 1)" text-anchor="middle" font-size="7" font-weight="bold" stroke="#000" stroke-width="0.25">10</text>
<text transform="translate(305 262.4) scale(1.06 1)" text-anchor="middle" font-size="6.5" font-weight="bold" stroke="#000" stroke-width="0.25">4</text>
<text transform="translate(314.9 267) scale(1.06 1)" text-anchor="middle" font-size="7" font-weight="bold" stroke="#000" stroke-width="0.25">10</text>
<text transform="translate(320.8 262.4) scale(1.06 1)" text-anchor="middle" font-size="6.5" font-weight="bold" stroke="#000" stroke-width="0.25">5</text>
<path d="M272.99 187.7 L272.19 188.23 L271.39 189.33 L270.59 191.52 L269.79 194.04 L268.99 197.19 L268.19 202.02 L267.39 206.43 L266.59 210.06 L265.79 215.21 L264.99 218.58 L264.19 222.84 L263.39 227.47 L262.59 230.58 L261.79 234.14 L260.99 237.75 L260.19 239.79 L259.39 242.87 L258.59 245.06 L257.79 247.34 L256.99 249.23" fill="none" stroke="#111" stroke-width="1.3" stroke-dasharray="3 2.4" stroke-linejoin="round"/>
<path d="M272.99 187.7 L273.79 188.27 L274.59 189.02 L275.39 192.53 L276.19 198.88 L276.99 205.24 L277.79 212.55 L278.59 220.26 L279.39 226.42 L280.19 232.47 L280.99 236.87 L281.79 241.07 L282.59 243.13 L283.39 245.04 L284.19 246.71 L284.99 247.72 L285.79 248.23 L286.59 248.81" fill="none" stroke="#111" stroke-width="1.3" stroke-dasharray="3 2.4" stroke-linejoin="round"/>
<path d="M257.81 249.5 L258.61 249.43 L259.41 249.33 L260.21 249.2 L261.01 249.01 L261.81 248.9 L262.61 248.88 L263.41 248.79 L264.21 248.47 L265.01 248.34 L265.81 248.05 L266.61 248.09 L267.41 247.89 L268.21 247.29 L269.01 247.22 L269.81 247.02 L270.61 245.55 L271.41 245.2 L272.21 244.3 L273.01 244.77 L273.81 242.3 L274.61 242.61 L275.41 239.3 L276.21 238.71 L277.01 236.22 L277.81 232.94 L278.61 228.42 L279.41 225.39 L280.21 221.11 L281.01 214.43 L281.81 209.12 L282.61 203.66 L283.41 198.2 L284.21 193.14 L285.01 188.28 L285.81 183.61 L286.61 181.22 L287.41 182.9 L288.21 189.66 L289.01 195.64 L289.81 201.22 L290.61 205.61 L291.41 211.2 L292.21 215.51 L293.01 221.68 L293.81 225.52 L294.61 230.75 L295.41 236.41 L296.21 238.93 L297.01 241.1 L297.81 244.47 L298.61 245.08 L299.41 246.64 L300.21 247.19 L301.01 247.61 L301.81 248.35 L302.61 248.6 L303.41 248.86 L304.21 249.14 L305.01 249.48" fill="none" stroke="#000" stroke-width="1.5" stroke-linejoin="round" stroke-linecap="round"/></g>
<g><text x="440" y="168.3" text-anchor="middle" font-size="12" font-weight="bold">TC71</text>
<path d="M410.5 170.5H489.5V249.5" fill="none" stroke="#777" stroke-width="1"/>
<path d="M410.5 170V249.5H490" fill="none" stroke="#333" stroke-width="1"/>
<text x="404.3" y="249.9" text-anchor="end" font-size="7.4" font-weight="bold" stroke="#000" stroke-width="0.2">0</text>
<line x1="406.5" y1="249.5" x2="410.5" y2="249.5" stroke="#333" stroke-width="1"/>
<text x="404.3" y="232.35" text-anchor="end" font-size="7.4" font-weight="bold" stroke="#000" stroke-width="0.2">50</text>
<line x1="406.5" y1="229.75" x2="410.5" y2="229.75" stroke="#333" stroke-width="1"/>
<text x="404.3" y="212.6" text-anchor="end" font-size="7.4" font-weight="bold" stroke="#000" stroke-width="0.2">100</text>
<line x1="406.5" y1="210" x2="410.5" y2="210" stroke="#333" stroke-width="1"/>
<text x="404.3" y="192.85" text-anchor="end" font-size="7.4" font-weight="bold" stroke="#000" stroke-width="0.2">150</text>
<line x1="406.5" y1="190.25" x2="410.5" y2="190.25" stroke="#333" stroke-width="1"/>
<text x="404.3" y="177.9" text-anchor="end" font-size="7.4" font-weight="bold" stroke="#000" stroke-width="0.2">200</text>
<line x1="406.5" y1="170.5" x2="410.5" y2="170.5" stroke="#333" stroke-width="1"/>
<line x1="408.2" y1="245.55" x2="410.5" y2="245.55" stroke="#444" stroke-width="0.8"/>
<line x1="408.2" y1="241.6" x2="410.5" y2="241.6" stroke="#444" stroke-width="0.8"/>
<line x1="408.2" y1="237.65" x2="410.5" y2="237.65" stroke="#444" stroke-width="0.8"/>
<line x1="408.2" y1="233.7" x2="410.5" y2="233.7" stroke="#444" stroke-width="0.8"/>
<line x1="408.2" y1="225.8" x2="410.5" y2="225.8" stroke="#444" stroke-width="0.8"/>
<line x1="408.2" y1="221.85" x2="410.5" y2="221.85" stroke="#444" stroke-width="0.8"/>
<line x1="408.2" y1="217.9" x2="410.5" y2="217.9" stroke="#444" stroke-width="0.8"/>
<line x1="408.2" y1="213.95" x2="410.5" y2="213.95" stroke="#444" stroke-width="0.8"/>
<line x1="408.2" y1="206.05" x2="410.5" y2="206.05" stroke="#444" stroke-width="0.8"/>
<line x1="408.2" y1="202.1" x2="410.5" y2="202.1" stroke="#444" stroke-width="0.8"/>
<line x1="408.2" y1="198.15" x2="410.5" y2="198.15" stroke="#444" stroke-width="0.8"/>
<line x1="408.2" y1="194.2" x2="410.5" y2="194.2" stroke="#444" stroke-width="0.8"/>
<line x1="408.2" y1="186.3" x2="410.5" y2="186.3" stroke="#444" stroke-width="0.8"/>
<line x1="408.2" y1="182.35" x2="410.5" y2="182.35" stroke="#444" stroke-width="0.8"/>
<line x1="408.2" y1="178.4" x2="410.5" y2="178.4" stroke="#444" stroke-width="0.8"/>
<line x1="408.2" y1="174.45" x2="410.5" y2="174.45" stroke="#444" stroke-width="0.8"/>
<line x1="417.7" y1="249.5" x2="417.7" y2="253.1" stroke="#222" stroke-width="0.9"/>
<line x1="426.7" y1="249.5" x2="426.7" y2="253.1" stroke="#222" stroke-width="0.9"/>
<line x1="445.2" y1="249.5" x2="445.2" y2="253.1" stroke="#222" stroke-width="0.9"/>
<line x1="463.6" y1="249.5" x2="463.6" y2="253.1" stroke="#222" stroke-width="0.9"/>
<line x1="481.9" y1="249.5" x2="481.9" y2="253.1" stroke="#222" stroke-width="0.9"/>
<line x1="411.3" y1="249.5" x2="411.3" y2="251.8" stroke="#222" stroke-width="0.9"/>
<line x1="412.9" y1="249.5" x2="412.9" y2="251.8" stroke="#222" stroke-width="0.9"/>
<line x1="414.5" y1="249.5" x2="414.5" y2="251.8" stroke="#222" stroke-width="0.9"/>
<line x1="416.1" y1="249.5" x2="416.1" y2="251.8" stroke="#222" stroke-width="0.9"/>
<line x1="419.1" y1="249.5" x2="419.1" y2="251.8" stroke="#222" stroke-width="0.9"/>
<line x1="420.5" y1="249.5" x2="420.5" y2="251.8" stroke="#222" stroke-width="0.9"/>
<line x1="421.9" y1="249.5" x2="421.9" y2="251.8" stroke="#222" stroke-width="0.9"/>
<line x1="423.1" y1="249.5" x2="423.1" y2="251.8" stroke="#222" stroke-width="0.9"/>
<line x1="424.1" y1="249.5" x2="424.1" y2="251.8" stroke="#222" stroke-width="0.9"/>
<line x1="425" y1="249.5" x2="425" y2="251.8" stroke="#222" stroke-width="0.9"/>
<line x1="425.9" y1="249.5" x2="425.9" y2="251.8" stroke="#222" stroke-width="0.9"/>
<line x1="432.21" y1="249.5" x2="432.21" y2="251.4" stroke="#555" stroke-width="0.6"/>
<line x1="435.43" y1="249.5" x2="435.43" y2="251.4" stroke="#555" stroke-width="0.6"/>
<line x1="437.72" y1="249.5" x2="437.72" y2="251.4" stroke="#555" stroke-width="0.6"/>
<line x1="439.49" y1="249.5" x2="439.49" y2="251.4" stroke="#555" stroke-width="0.6"/>
<line x1="440.94" y1="249.5" x2="440.94" y2="251.4" stroke="#555" stroke-width="0.6"/>
<line x1="442.17" y1="249.5" x2="442.17" y2="251.4" stroke="#555" stroke-width="0.6"/>
<line x1="443.23" y1="249.5" x2="443.23" y2="251.4" stroke="#555" stroke-width="0.6"/>
<line x1="444.16" y1="249.5" x2="444.16" y2="251.4" stroke="#555" stroke-width="0.6"/>
<line x1="450.71" y1="249.5" x2="450.71" y2="251.4" stroke="#555" stroke-width="0.6"/>
<line x1="453.93" y1="249.5" x2="453.93" y2="251.4" stroke="#555" stroke-width="0.6"/>
<line x1="456.22" y1="249.5" x2="456.22" y2="251.4" stroke="#555" stroke-width="0.6"/>
<line x1="457.99" y1="249.5" x2="457.99" y2="251.4" stroke="#555" stroke-width="0.6"/>
<line x1="459.44" y1="249.5" x2="459.44" y2="251.4" stroke="#555" stroke-width="0.6"/>
<line x1="460.67" y1="249.5" x2="460.67" y2="251.4" stroke="#555" stroke-width="0.6"/>
<line x1="461.73" y1="249.5" x2="461.73" y2="251.4" stroke="#555" stroke-width="0.6"/>
<line x1="462.66" y1="249.5" x2="462.66" y2="251.4" stroke="#555" stroke-width="0.6"/>
<line x1="469.11" y1="249.5" x2="469.11" y2="251.4" stroke="#555" stroke-width="0.6"/>
<line x1="472.33" y1="249.5" x2="472.33" y2="251.4" stroke="#555" stroke-width="0.6"/>
<line x1="474.62" y1="249.5" x2="474.62" y2="251.4" stroke="#555" stroke-width="0.6"/>
<line x1="476.39" y1="249.5" x2="476.39" y2="251.4" stroke="#555" stroke-width="0.6"/>
<line x1="477.84" y1="249.5" x2="477.84" y2="251.4" stroke="#555" stroke-width="0.6"/>
<line x1="479.07" y1="249.5" x2="479.07" y2="251.4" stroke="#555" stroke-width="0.6"/>
<line x1="480.13" y1="249.5" x2="480.13" y2="251.4" stroke="#555" stroke-width="0.6"/>
<line x1="481.06" y1="249.5" x2="481.06" y2="251.4" stroke="#555" stroke-width="0.6"/>
<line x1="487.41" y1="249.5" x2="487.41" y2="251.4" stroke="#555" stroke-width="0.6"/>
<text transform="translate(416.3 269.1) scale(1.06 1)" text-anchor="middle" font-size="7" font-weight="bold" stroke="#000" stroke-width="0.25">0</text>
<text transform="translate(425.5 269.1) scale(1.06 1)" text-anchor="middle" font-size="7" font-weight="bold" stroke="#000" stroke-width="0.25">10</text>
<text transform="translate(431.4 263.9) scale(1.06 1)" text-anchor="middle" font-size="6.5" font-weight="bold" stroke="#000" stroke-width="0.25">2</text>
<text transform="translate(442 269.1) scale(1.06 1)" text-anchor="middle" font-size="7" font-weight="bold" stroke="#000" stroke-width="0.25">10</text>
<text transform="translate(447.9 263.9) scale(1.06 1)" text-anchor="middle" font-size="6.5" font-weight="bold" stroke="#000" stroke-width="0.25">3</text>
<text transform="translate(458.3 269.1) scale(1.06 1)" text-anchor="middle" font-size="7" font-weight="bold" stroke="#000" stroke-width="0.25">10</text>
<text transform="translate(464.2 263.9) scale(1.06 1)" text-anchor="middle" font-size="6.5" font-weight="bold" stroke="#000" stroke-width="0.25">4</text>
<text transform="translate(474.1 269.1) scale(1.06 1)" text-anchor="middle" font-size="7" font-weight="bold" stroke="#000" stroke-width="0.25">10</text>
<text transform="translate(480 263.9) scale(1.06 1)" text-anchor="middle" font-size="6.5" font-weight="bold" stroke="#000" stroke-width="0.25">5</text>
<path d="M429.49 177.96 L428.69 178.34 L427.89 184.37 L427.09 188.8 L426.29 194.4 L425.49 199.13 L424.69 204.79 L423.89 209.83 L423.09 214.68 L422.29 218.62 L421.49 222.49 L420.69 226.82 L419.89 232.41 L419.09 235.72 L418.29 239 L417.49 241.23 L416.69 244.2 L415.89 245.81 L415.09 247.41 L414.29 247.7 L413.49 248.14 L412.69 248.56 L411.89 249.05 L411.09 249.5" fill="none" stroke="#111" stroke-width="1.3" stroke-dasharray="3 2.4" stroke-linejoin="round"/>
<path d="M429.49 177.96 L430.29 182.19 L431.09 187.51 L431.89 191.4 L432.69 200.3 L433.49 208.21 L434.29 216.92 L435.09 223.86 L435.89 229.9 L436.69 235.38 L437.49 240.15 L438.29 243.11 L439.09 245.73 L439.89 247.13 L440.69 248.01 L441.49 248.71" fill="none" stroke="#111" stroke-width="1.3" stroke-dasharray="3 2.4" stroke-linejoin="round"/>
<path d="M411.09 249.5 L411.89 249.2 L412.69 248.79 L413.49 248.44 L414.29 247.91 L415.09 246.67 L415.89 245.05 L416.69 243.77 L417.49 241.05 L418.29 237.99 L419.09 236.09 L419.89 232.55 L420.69 227.28 L421.49 225.13 L422.29 219.45 L423.09 215.25 L423.89 211.35 L424.69 204.12 L425.49 198.48 L426.29 193.52 L427.09 188.31 L427.89 183.62 L428.69 184.48 L429.49 184.79 L430.29 188.03 L431.09 193.74 L431.89 201.46 L432.69 210.41 L433.49 219.99 L434.29 227.72 L435.09 234.45 L435.89 239.58 L436.69 243.75 L437.49 246.31 L438.29 247.12 L439.09 247.94 L439.89 248.61 L440.69 248.8 L441.49 249.23" fill="none" stroke="#000" stroke-width="1.5" stroke-linejoin="round" stroke-linecap="round"/></g>
<g><text x="142.3" y="296.5" text-anchor="middle" font-size="12" font-weight="bold">CCRF-CEM</text>
<path d="M102.5 299.5H181.5V378.5" fill="none" stroke="#777" stroke-width="1"/>
<path d="M102.5 299V378.5H182" fill="none" stroke="#333" stroke-width="1"/>
<text x="96.3" y="378.9" text-anchor="end" font-size="7.4" font-weight="bold" stroke="#000" stroke-width="0.2">0</text>
<line x1="98.5" y1="378.5" x2="102.5" y2="378.5" stroke="#333" stroke-width="1"/>
<text x="96.3" y="361.35" text-anchor="end" font-size="7.4" font-weight="bold" stroke="#000" stroke-width="0.2">200</text>
<line x1="98.5" y1="358.75" x2="102.5" y2="358.75" stroke="#333" stroke-width="1"/>
<text x="96.3" y="341.6" text-anchor="end" font-size="7.4" font-weight="bold" stroke="#000" stroke-width="0.2">400</text>
<line x1="98.5" y1="339" x2="102.5" y2="339" stroke="#333" stroke-width="1"/>
<text x="96.3" y="321.85" text-anchor="end" font-size="7.4" font-weight="bold" stroke="#000" stroke-width="0.2">600</text>
<line x1="98.5" y1="319.25" x2="102.5" y2="319.25" stroke="#333" stroke-width="1"/>
<text x="96.3" y="305.7" text-anchor="end" font-size="7.4" font-weight="bold" stroke="#000" stroke-width="0.2">800</text>
<line x1="98.5" y1="299.5" x2="102.5" y2="299.5" stroke="#333" stroke-width="1"/>
<line x1="100.2" y1="373.56" x2="102.5" y2="373.56" stroke="#444" stroke-width="0.8"/>
<line x1="100.2" y1="368.62" x2="102.5" y2="368.62" stroke="#444" stroke-width="0.8"/>
<line x1="100.2" y1="363.69" x2="102.5" y2="363.69" stroke="#444" stroke-width="0.8"/>
<line x1="100.2" y1="353.81" x2="102.5" y2="353.81" stroke="#444" stroke-width="0.8"/>
<line x1="100.2" y1="348.88" x2="102.5" y2="348.88" stroke="#444" stroke-width="0.8"/>
<line x1="100.2" y1="343.94" x2="102.5" y2="343.94" stroke="#444" stroke-width="0.8"/>
<line x1="100.2" y1="334.06" x2="102.5" y2="334.06" stroke="#444" stroke-width="0.8"/>
<line x1="100.2" y1="329.12" x2="102.5" y2="329.12" stroke="#444" stroke-width="0.8"/>
<line x1="100.2" y1="324.19" x2="102.5" y2="324.19" stroke="#444" stroke-width="0.8"/>
<line x1="100.2" y1="314.31" x2="102.5" y2="314.31" stroke="#444" stroke-width="0.8"/>
<line x1="100.2" y1="309.38" x2="102.5" y2="309.38" stroke="#444" stroke-width="0.8"/>
<line x1="100.2" y1="304.44" x2="102.5" y2="304.44" stroke="#444" stroke-width="0.8"/>
<line x1="109.7" y1="378.5" x2="109.7" y2="382.1" stroke="#222" stroke-width="0.9"/>
<line x1="118.7" y1="378.5" x2="118.7" y2="382.1" stroke="#222" stroke-width="0.9"/>
<line x1="137.2" y1="378.5" x2="137.2" y2="382.1" stroke="#222" stroke-width="0.9"/>
<line x1="155.6" y1="378.5" x2="155.6" y2="382.1" stroke="#222" stroke-width="0.9"/>
<line x1="173.9" y1="378.5" x2="173.9" y2="382.1" stroke="#222" stroke-width="0.9"/>
<line x1="103.3" y1="378.5" x2="103.3" y2="380.8" stroke="#222" stroke-width="0.9"/>
<line x1="104.9" y1="378.5" x2="104.9" y2="380.8" stroke="#222" stroke-width="0.9"/>
<line x1="106.5" y1="378.5" x2="106.5" y2="380.8" stroke="#222" stroke-width="0.9"/>
<line x1="108.1" y1="378.5" x2="108.1" y2="380.8" stroke="#222" stroke-width="0.9"/>
<line x1="111.1" y1="378.5" x2="111.1" y2="380.8" stroke="#222" stroke-width="0.9"/>
<line x1="112.5" y1="378.5" x2="112.5" y2="380.8" stroke="#222" stroke-width="0.9"/>
<line x1="113.9" y1="378.5" x2="113.9" y2="380.8" stroke="#222" stroke-width="0.9"/>
<line x1="115.1" y1="378.5" x2="115.1" y2="380.8" stroke="#222" stroke-width="0.9"/>
<line x1="116.1" y1="378.5" x2="116.1" y2="380.8" stroke="#222" stroke-width="0.9"/>
<line x1="117" y1="378.5" x2="117" y2="380.8" stroke="#222" stroke-width="0.9"/>
<line x1="117.9" y1="378.5" x2="117.9" y2="380.8" stroke="#222" stroke-width="0.9"/>
<line x1="124.21" y1="378.5" x2="124.21" y2="380.4" stroke="#555" stroke-width="0.6"/>
<line x1="127.43" y1="378.5" x2="127.43" y2="380.4" stroke="#555" stroke-width="0.6"/>
<line x1="129.72" y1="378.5" x2="129.72" y2="380.4" stroke="#555" stroke-width="0.6"/>
<line x1="131.49" y1="378.5" x2="131.49" y2="380.4" stroke="#555" stroke-width="0.6"/>
<line x1="132.94" y1="378.5" x2="132.94" y2="380.4" stroke="#555" stroke-width="0.6"/>
<line x1="134.17" y1="378.5" x2="134.17" y2="380.4" stroke="#555" stroke-width="0.6"/>
<line x1="135.23" y1="378.5" x2="135.23" y2="380.4" stroke="#555" stroke-width="0.6"/>
<line x1="136.16" y1="378.5" x2="136.16" y2="380.4" stroke="#555" stroke-width="0.6"/>
<line x1="142.71" y1="378.5" x2="142.71" y2="380.4" stroke="#555" stroke-width="0.6"/>
<line x1="145.93" y1="378.5" x2="145.93" y2="380.4" stroke="#555" stroke-width="0.6"/>
<line x1="148.22" y1="378.5" x2="148.22" y2="380.4" stroke="#555" stroke-width="0.6"/>
<line x1="149.99" y1="378.5" x2="149.99" y2="380.4" stroke="#555" stroke-width="0.6"/>
<line x1="151.44" y1="378.5" x2="151.44" y2="380.4" stroke="#555" stroke-width="0.6"/>
<line x1="152.67" y1="378.5" x2="152.67" y2="380.4" stroke="#555" stroke-width="0.6"/>
<line x1="153.73" y1="378.5" x2="153.73" y2="380.4" stroke="#555" stroke-width="0.6"/>
<line x1="154.66" y1="378.5" x2="154.66" y2="380.4" stroke="#555" stroke-width="0.6"/>
<line x1="161.11" y1="378.5" x2="161.11" y2="380.4" stroke="#555" stroke-width="0.6"/>
<line x1="164.33" y1="378.5" x2="164.33" y2="380.4" stroke="#555" stroke-width="0.6"/>
<line x1="166.62" y1="378.5" x2="166.62" y2="380.4" stroke="#555" stroke-width="0.6"/>
<line x1="168.39" y1="378.5" x2="168.39" y2="380.4" stroke="#555" stroke-width="0.6"/>
<line x1="169.84" y1="378.5" x2="169.84" y2="380.4" stroke="#555" stroke-width="0.6"/>
<line x1="171.07" y1="378.5" x2="171.07" y2="380.4" stroke="#555" stroke-width="0.6"/>
<line x1="172.13" y1="378.5" x2="172.13" y2="380.4" stroke="#555" stroke-width="0.6"/>
<line x1="173.06" y1="378.5" x2="173.06" y2="380.4" stroke="#555" stroke-width="0.6"/>
<line x1="179.41" y1="378.5" x2="179.41" y2="380.4" stroke="#555" stroke-width="0.6"/>
<text transform="translate(108.3 396) scale(1.06 1)" text-anchor="middle" font-size="7" font-weight="bold" stroke="#000" stroke-width="0.25">0</text>
<text transform="translate(117.5 396) scale(1.06 1)" text-anchor="middle" font-size="7" font-weight="bold" stroke="#000" stroke-width="0.25">10</text>
<text transform="translate(123.4 391.5) scale(1.06 1)" text-anchor="middle" font-size="6.5" font-weight="bold" stroke="#000" stroke-width="0.25">2</text>
<text transform="translate(134 396) scale(1.06 1)" text-anchor="middle" font-size="7" font-weight="bold" stroke="#000" stroke-width="0.25">10</text>
<text transform="translate(139.9 391.5) scale(1.06 1)" text-anchor="middle" font-size="6.5" font-weight="bold" stroke="#000" stroke-width="0.25">3</text>
<text transform="translate(150.3 396) scale(1.06 1)" text-anchor="middle" font-size="7" font-weight="bold" stroke="#000" stroke-width="0.25">10</text>
<text transform="translate(156.2 391.5) scale(1.06 1)" text-anchor="middle" font-size="6.5" font-weight="bold" stroke="#000" stroke-width="0.25">4</text>
<text transform="translate(166.1 396) scale(1.06 1)" text-anchor="middle" font-size="7" font-weight="bold" stroke="#000" stroke-width="0.25">10</text>
<text transform="translate(172 391.5) scale(1.06 1)" text-anchor="middle" font-size="6.5" font-weight="bold" stroke="#000" stroke-width="0.25">5</text>
<path d="M112.87 321.08 L112.07 321.49 L111.27 325.17 L110.47 328.46 L109.67 334.47 L108.87 341.71 L108.07 349.05 L107.27 356.99 L106.47 364.75 L105.67 369.77 L104.87 373.66 L104.07 375.88 L103.27 378.05" fill="none" stroke="#111" stroke-width="1.3" stroke-dasharray="3 2.4" stroke-linejoin="round"/>
<path d="M112.87 321.08 L113.67 323.4 L114.47 326.37 L115.27 330.84 L116.07 337.29 L116.87 342.72 L117.67 348.84 L118.47 355.57 L119.27 361.48 L120.07 366.3 L120.87 370.36 L121.67 373.15 L122.47 375.83 L123.27 376.96" fill="none" stroke="#111" stroke-width="1.3" stroke-dasharray="3 2.4" stroke-linejoin="round"/>
<path d="M102.94 378.1 L103.74 376.49 L104.54 374.78 L105.34 370.16 L106.14 367.03 L106.94 359.58 L107.74 353.49 L108.54 344.8 L109.34 335.58 L110.14 326.64 L110.94 318.6 L111.74 312.51 L112.54 307.68 L113.34 310.01 L114.14 316.53 L114.94 324.53 L115.74 335.86 L116.54 345.07 L117.34 356.46 L118.14 362.46 L118.94 368.54 L119.74 373.31 L120.54 375.44 L121.34 376.2 L122.14 377.13 L122.94 377.6 L123.74 377.94" fill="none" stroke="#000" stroke-width="1.5" stroke-linejoin="round" stroke-linecap="round"/></g>
<g><text x="289.5" y="296.5" text-anchor="middle" font-size="12" font-weight="bold">293T-17</text>
<path d="M259.5 299.5H338.5V378.5" fill="none" stroke="#777" stroke-width="1"/>
<path d="M259.5 299V378.5H339" fill="none" stroke="#333" stroke-width="1"/>
<text x="253.3" y="378.9" text-anchor="end" font-size="7.4" font-weight="bold" stroke="#000" stroke-width="0.2">0</text>
<line x1="255.5" y1="378.5" x2="259.5" y2="378.5" stroke="#333" stroke-width="1"/>
<text x="253.3" y="354.77" text-anchor="end" font-size="7.4" font-weight="bold" stroke="#000" stroke-width="0.2">100</text>
<line x1="255.5" y1="352.17" x2="259.5" y2="352.17" stroke="#333" stroke-width="1"/>
<text x="253.3" y="328.44" text-anchor="end" font-size="7.4" font-weight="bold" stroke="#000" stroke-width="0.2">200</text>
<line x1="255.5" y1="325.84" x2="259.5" y2="325.84" stroke="#333" stroke-width="1"/>
<text x="253.3" y="305.71" text-anchor="end" font-size="7.4" font-weight="bold" stroke="#000" stroke-width="0.2">300</text>
<line x1="255.5" y1="299.51" x2="259.5" y2="299.51" stroke="#333" stroke-width="1"/>
<line x1="257.2" y1="371.92" x2="259.5" y2="371.92" stroke="#444" stroke-width="0.8"/>
<line x1="257.2" y1="365.34" x2="259.5" y2="365.34" stroke="#444" stroke-width="0.8"/>
<line x1="257.2" y1="358.75" x2="259.5" y2="358.75" stroke="#444" stroke-width="0.8"/>
<line x1="257.2" y1="345.59" x2="259.5" y2="345.59" stroke="#444" stroke-width="0.8"/>
<line x1="257.2" y1="339.01" x2="259.5" y2="339.01" stroke="#444" stroke-width="0.8"/>
<line x1="257.2" y1="332.42" x2="259.5" y2="332.42" stroke="#444" stroke-width="0.8"/>
<line x1="257.2" y1="319.26" x2="259.5" y2="319.26" stroke="#444" stroke-width="0.8"/>
<line x1="257.2" y1="312.68" x2="259.5" y2="312.68" stroke="#444" stroke-width="0.8"/>
<line x1="257.2" y1="306.09" x2="259.5" y2="306.09" stroke="#444" stroke-width="0.8"/>
<line x1="266.7" y1="378.5" x2="266.7" y2="382.1" stroke="#222" stroke-width="0.9"/>
<line x1="275.7" y1="378.5" x2="275.7" y2="382.1" stroke="#222" stroke-width="0.9"/>
<line x1="294.2" y1="378.5" x2="294.2" y2="382.1" stroke="#222" stroke-width="0.9"/>
<line x1="312.6" y1="378.5" x2="312.6" y2="382.1" stroke="#222" stroke-width="0.9"/>
<line x1="330.9" y1="378.5" x2="330.9" y2="382.1" stroke="#222" stroke-width="0.9"/>
<line x1="260.3" y1="378.5" x2="260.3" y2="380.8" stroke="#222" stroke-width="0.9"/>
<line x1="261.9" y1="378.5" x2="261.9" y2="380.8" stroke="#222" stroke-width="0.9"/>
<line x1="263.5" y1="378.5" x2="263.5" y2="380.8" stroke="#222" stroke-width="0.9"/>
<line x1="265.1" y1="378.5" x2="265.1" y2="380.8" stroke="#222" stroke-width="0.9"/>
<line x1="268.1" y1="378.5" x2="268.1" y2="380.8" stroke="#222" stroke-width="0.9"/>
<line x1="269.5" y1="378.5" x2="269.5" y2="380.8" stroke="#222" stroke-width="0.9"/>
<line x1="270.9" y1="378.5" x2="270.9" y2="380.8" stroke="#222" stroke-width="0.9"/>
<line x1="272.1" y1="378.5" x2="272.1" y2="380.8" stroke="#222" stroke-width="0.9"/>
<line x1="273.1" y1="378.5" x2="273.1" y2="380.8" stroke="#222" stroke-width="0.9"/>
<line x1="274" y1="378.5" x2="274" y2="380.8" stroke="#222" stroke-width="0.9"/>
<line x1="274.9" y1="378.5" x2="274.9" y2="380.8" stroke="#222" stroke-width="0.9"/>
<line x1="281.21" y1="378.5" x2="281.21" y2="380.4" stroke="#555" stroke-width="0.6"/>
<line x1="284.43" y1="378.5" x2="284.43" y2="380.4" stroke="#555" stroke-width="0.6"/>
<line x1="286.72" y1="378.5" x2="286.72" y2="380.4" stroke="#555" stroke-width="0.6"/>
<line x1="288.49" y1="378.5" x2="288.49" y2="380.4" stroke="#555" stroke-width="0.6"/>
<line x1="289.94" y1="378.5" x2="289.94" y2="380.4" stroke="#555" stroke-width="0.6"/>
<line x1="291.17" y1="378.5" x2="291.17" y2="380.4" stroke="#555" stroke-width="0.6"/>
<line x1="292.23" y1="378.5" x2="292.23" y2="380.4" stroke="#555" stroke-width="0.6"/>
<line x1="293.16" y1="378.5" x2="293.16" y2="380.4" stroke="#555" stroke-width="0.6"/>
<line x1="299.71" y1="378.5" x2="299.71" y2="380.4" stroke="#555" stroke-width="0.6"/>
<line x1="302.93" y1="378.5" x2="302.93" y2="380.4" stroke="#555" stroke-width="0.6"/>
<line x1="305.22" y1="378.5" x2="305.22" y2="380.4" stroke="#555" stroke-width="0.6"/>
<line x1="306.99" y1="378.5" x2="306.99" y2="380.4" stroke="#555" stroke-width="0.6"/>
<line x1="308.44" y1="378.5" x2="308.44" y2="380.4" stroke="#555" stroke-width="0.6"/>
<line x1="309.67" y1="378.5" x2="309.67" y2="380.4" stroke="#555" stroke-width="0.6"/>
<line x1="310.73" y1="378.5" x2="310.73" y2="380.4" stroke="#555" stroke-width="0.6"/>
<line x1="311.66" y1="378.5" x2="311.66" y2="380.4" stroke="#555" stroke-width="0.6"/>
<line x1="318.11" y1="378.5" x2="318.11" y2="380.4" stroke="#555" stroke-width="0.6"/>
<line x1="321.33" y1="378.5" x2="321.33" y2="380.4" stroke="#555" stroke-width="0.6"/>
<line x1="323.62" y1="378.5" x2="323.62" y2="380.4" stroke="#555" stroke-width="0.6"/>
<line x1="325.39" y1="378.5" x2="325.39" y2="380.4" stroke="#555" stroke-width="0.6"/>
<line x1="326.84" y1="378.5" x2="326.84" y2="380.4" stroke="#555" stroke-width="0.6"/>
<line x1="328.07" y1="378.5" x2="328.07" y2="380.4" stroke="#555" stroke-width="0.6"/>
<line x1="329.13" y1="378.5" x2="329.13" y2="380.4" stroke="#555" stroke-width="0.6"/>
<line x1="330.06" y1="378.5" x2="330.06" y2="380.4" stroke="#555" stroke-width="0.6"/>
<line x1="336.41" y1="378.5" x2="336.41" y2="380.4" stroke="#555" stroke-width="0.6"/>
<text transform="translate(265.3 396) scale(1.06 1)" text-anchor="middle" font-size="7" font-weight="bold" stroke="#000" stroke-width="0.25">0</text>
<text transform="translate(274.5 396) scale(1.06 1)" text-anchor="middle" font-size="7" font-weight="bold" stroke="#000" stroke-width="0.25">10</text>
<text transform="translate(280.4 391.5) scale(1.06 1)" text-anchor="middle" font-size="6.5" font-weight="bold" stroke="#000" stroke-width="0.25">2</text>
<text transform="translate(291 396) scale(1.06 1)" text-anchor="middle" font-size="7" font-weight="bold" stroke="#000" stroke-width="0.25">10</text>
<text transform="translate(296.9 391.5) scale(1.06 1)" text-anchor="middle" font-size="6.5" font-weight="bold" stroke="#000" stroke-width="0.25">3</text>
<text transform="translate(307.3 396) scale(1.06 1)" text-anchor="middle" font-size="7" font-weight="bold" stroke="#000" stroke-width="0.25">10</text>
<text transform="translate(313.2 391.5) scale(1.06 1)" text-anchor="middle" font-size="6.5" font-weight="bold" stroke="#000" stroke-width="0.25">4</text>
<text transform="translate(323.1 396) scale(1.06 1)" text-anchor="middle" font-size="7" font-weight="bold" stroke="#000" stroke-width="0.25">10</text>
<text transform="translate(329 391.5) scale(1.06 1)" text-anchor="middle" font-size="6.5" font-weight="bold" stroke="#000" stroke-width="0.25">5</text>
<path d="M274 313.59 L273.2 314.27 L272.4 319.23 L271.6 324.38 L270.8 328.9 L270 334.08 L269.2 341.41 L268.4 346.47 L267.6 352.1 L266.8 358.18 L266 361.87 L265.2 367.55 L264.4 368.6 L263.6 371.6 L262.8 374.2 L262 375.06 L261.2 376.28 L260.4 376.92 L259.6 378.09" fill="none" stroke="#111" stroke-width="1.3" stroke-dasharray="3 2.4" stroke-linejoin="round"/>
<path d="M274 313.59 L274.8 316.55 L275.6 320.59 L276.4 324.62 L277.2 329.79 L278 334.08 L278.8 341.53 L279.6 345.85 L280.4 352.27 L281.2 360.68 L282 365.07 L282.8 370.37 L283.6 373.43 L284.4 376 L285.2 376.96 L286 377.97" fill="none" stroke="#111" stroke-width="1.3" stroke-dasharray="3 2.4" stroke-linejoin="round"/>
<path d="M259.6 378 L260.4 377.18 L261.2 376.43 L262 375.56 L262.8 374.08 L263.6 372.57 L264.4 370.15 L265.2 365.02 L266 362.45 L266.8 356.44 L267.6 352.89 L268.4 347.94 L269.2 342.52 L270 338.24 L270.8 333.63 L271.6 328.87 L272.4 326.27 L273.2 324.64 L274 325.61 L274.8 327.04 L275.6 330.19 L276.4 334.17 L277.2 338.94 L278 345.48 L278.8 350.95 L279.6 358.47 L280.4 364.73 L281.2 369.81 L282 374.22 L282.8 375.91 L283.6 376.81 L284.4 377.46 L285.2 377.74 L286 378.12" fill="none" stroke="#000" stroke-width="1.5" stroke-linejoin="round" stroke-linecap="round"/></g>
<g><text x="440.4" y="292.2" text-anchor="middle" font-size="12" font-weight="bold">Primary CD34<tspan dy="-4.6" font-size="8.5">+</tspan><tspan dy="4.6"> cells</tspan></text>
<path d="M410.5 299.3H489.5V378.5" fill="none" stroke="#777" stroke-width="1"/>
<path d="M410.5 298.8V378.5H490" fill="none" stroke="#333" stroke-width="1"/>
<text x="404.3" y="378.9" text-anchor="end" font-size="7.4" font-weight="bold" stroke="#000" stroke-width="0.2">0</text>
<line x1="406.5" y1="378.5" x2="410.5" y2="378.5" stroke="#333" stroke-width="1"/>
<text x="404.3" y="358.57" text-anchor="end" font-size="7.4" font-weight="bold" stroke="#000" stroke-width="0.2">200</text>
<line x1="406.5" y1="355.97" x2="410.5" y2="355.97" stroke="#333" stroke-width="1"/>
<text x="404.3" y="336.04" text-anchor="end" font-size="7.4" font-weight="bold" stroke="#000" stroke-width="0.2">400</text>
<line x1="406.5" y1="333.44" x2="410.5" y2="333.44" stroke="#333" stroke-width="1"/>
<text x="404.3" y="313.51" text-anchor="end" font-size="7.4" font-weight="bold" stroke="#000" stroke-width="0.2">600</text>
<line x1="406.5" y1="310.91" x2="410.5" y2="310.91" stroke="#333" stroke-width="1"/>
<line x1="408.2" y1="372.87" x2="410.5" y2="372.87" stroke="#444" stroke-width="0.8"/>
<line x1="408.2" y1="367.24" x2="410.5" y2="367.24" stroke="#444" stroke-width="0.8"/>
<line x1="408.2" y1="361.6" x2="410.5" y2="361.6" stroke="#444" stroke-width="0.8"/>
<line x1="408.2" y1="350.34" x2="410.5" y2="350.34" stroke="#444" stroke-width="0.8"/>
<line x1="408.2" y1="344.71" x2="410.5" y2="344.71" stroke="#444" stroke-width="0.8"/>
<line x1="408.2" y1="339.07" x2="410.5" y2="339.07" stroke="#444" stroke-width="0.8"/>
<line x1="408.2" y1="327.81" x2="410.5" y2="327.81" stroke="#444" stroke-width="0.8"/>
<line x1="408.2" y1="322.18" x2="410.5" y2="322.18" stroke="#444" stroke-width="0.8"/>
<line x1="408.2" y1="316.54" x2="410.5" y2="316.54" stroke="#444" stroke-width="0.8"/>
<line x1="408.2" y1="305.28" x2="410.5" y2="305.28" stroke="#444" stroke-width="0.8"/>
<line x1="408.2" y1="299.65" x2="410.5" y2="299.65" stroke="#444" stroke-width="0.8"/>
<line x1="417.7" y1="378.5" x2="417.7" y2="382.1" stroke="#222" stroke-width="0.9"/>
<line x1="426.7" y1="378.5" x2="426.7" y2="382.1" stroke="#222" stroke-width="0.9"/>
<line x1="445.2" y1="378.5" x2="445.2" y2="382.1" stroke="#222" stroke-width="0.9"/>
<line x1="463.6" y1="378.5" x2="463.6" y2="382.1" stroke="#222" stroke-width="0.9"/>
<line x1="481.9" y1="378.5" x2="481.9" y2="382.1" stroke="#222" stroke-width="0.9"/>
<line x1="411.3" y1="378.5" x2="411.3" y2="380.8" stroke="#222" stroke-width="0.9"/>
<line x1="412.9" y1="378.5" x2="412.9" y2="380.8" stroke="#222" stroke-width="0.9"/>
<line x1="414.5" y1="378.5" x2="414.5" y2="380.8" stroke="#222" stroke-width="0.9"/>
<line x1="416.1" y1="378.5" x2="416.1" y2="380.8" stroke="#222" stroke-width="0.9"/>
<line x1="419.1" y1="378.5" x2="419.1" y2="380.8" stroke="#222" stroke-width="0.9"/>
<line x1="420.5" y1="378.5" x2="420.5" y2="380.8" stroke="#222" stroke-width="0.9"/>
<line x1="421.9" y1="378.5" x2="421.9" y2="380.8" stroke="#222" stroke-width="0.9"/>
<line x1="423.1" y1="378.5" x2="423.1" y2="380.8" stroke="#222" stroke-width="0.9"/>
<line x1="424.1" y1="378.5" x2="424.1" y2="380.8" stroke="#222" stroke-width="0.9"/>
<line x1="425" y1="378.5" x2="425" y2="380.8" stroke="#222" stroke-width="0.9"/>
<line x1="425.9" y1="378.5" x2="425.9" y2="380.8" stroke="#222" stroke-width="0.9"/>
<line x1="432.21" y1="378.5" x2="432.21" y2="380.4" stroke="#555" stroke-width="0.6"/>
<line x1="435.43" y1="378.5" x2="435.43" y2="380.4" stroke="#555" stroke-width="0.6"/>
<line x1="437.72" y1="378.5" x2="437.72" y2="380.4" stroke="#555" stroke-width="0.6"/>
<line x1="439.49" y1="378.5" x2="439.49" y2="380.4" stroke="#555" stroke-width="0.6"/>
<line x1="440.94" y1="378.5" x2="440.94" y2="380.4" stroke="#555" stroke-width="0.6"/>
<line x1="442.17" y1="378.5" x2="442.17" y2="380.4" stroke="#555" stroke-width="0.6"/>
<line x1="443.23" y1="378.5" x2="443.23" y2="380.4" stroke="#555" stroke-width="0.6"/>
<line x1="444.16" y1="378.5" x2="444.16" y2="380.4" stroke="#555" stroke-width="0.6"/>
<line x1="450.71" y1="378.5" x2="450.71" y2="380.4" stroke="#555" stroke-width="0.6"/>
<line x1="453.93" y1="378.5" x2="453.93" y2="380.4" stroke="#555" stroke-width="0.6"/>
<line x1="456.22" y1="378.5" x2="456.22" y2="380.4" stroke="#555" stroke-width="0.6"/>
<line x1="457.99" y1="378.5" x2="457.99" y2="380.4" stroke="#555" stroke-width="0.6"/>
<line x1="459.44" y1="378.5" x2="459.44" y2="380.4" stroke="#555" stroke-width="0.6"/>
<line x1="460.67" y1="378.5" x2="460.67" y2="380.4" stroke="#555" stroke-width="0.6"/>
<line x1="461.73" y1="378.5" x2="461.73" y2="380.4" stroke="#555" stroke-width="0.6"/>
<line x1="462.66" y1="378.5" x2="462.66" y2="380.4" stroke="#555" stroke-width="0.6"/>
<line x1="469.11" y1="378.5" x2="469.11" y2="380.4" stroke="#555" stroke-width="0.6"/>
<line x1="472.33" y1="378.5" x2="472.33" y2="380.4" stroke="#555" stroke-width="0.6"/>
<line x1="474.62" y1="378.5" x2="474.62" y2="380.4" stroke="#555" stroke-width="0.6"/>
<line x1="476.39" y1="378.5" x2="476.39" y2="380.4" stroke="#555" stroke-width="0.6"/>
<line x1="477.84" y1="378.5" x2="477.84" y2="380.4" stroke="#555" stroke-width="0.6"/>
<line x1="479.07" y1="378.5" x2="479.07" y2="380.4" stroke="#555" stroke-width="0.6"/>
<line x1="480.13" y1="378.5" x2="480.13" y2="380.4" stroke="#555" stroke-width="0.6"/>
<line x1="481.06" y1="378.5" x2="481.06" y2="380.4" stroke="#555" stroke-width="0.6"/>
<line x1="487.41" y1="378.5" x2="487.41" y2="380.4" stroke="#555" stroke-width="0.6"/>
<text transform="translate(416.3 398.1) scale(1.06 1)" text-anchor="middle" font-size="7" font-weight="bold" stroke="#000" stroke-width="0.25">0</text>
<text transform="translate(425.5 398.1) scale(1.06 1)" text-anchor="middle" font-size="7" font-weight="bold" stroke="#000" stroke-width="0.25">10</text>
<text transform="translate(431.4 392.9) scale(1.06 1)" text-anchor="middle" font-size="6.5" font-weight="bold" stroke="#000" stroke-width="0.25">2</text>
<text transform="translate(442 398.1) scale(1.06 1)" text-anchor="middle" font-size="7" font-weight="bold" stroke="#000" stroke-width="0.25">10</text>
<text transform="translate(447.9 392.9) scale(1.06 1)" text-anchor="middle" font-size="6.5" font-weight="bold" stroke="#000" stroke-width="0.25">3</text>
<text transform="translate(458.3 398.1) scale(1.06 1)" text-anchor="middle" font-size="7" font-weight="bold" stroke="#000" stroke-width="0.25">10</text>
<text transform="translate(464.2 392.9) scale(1.06 1)" text-anchor="middle" font-size="6.5" font-weight="bold" stroke="#000" stroke-width="0.25">4</text>
<text transform="translate(474.1 398.1) scale(1.06 1)" text-anchor="middle" font-size="7" font-weight="bold" stroke="#000" stroke-width="0.25">10</text>
<text transform="translate(480 392.9) scale(1.06 1)" text-anchor="middle" font-size="6.5" font-weight="bold" stroke="#000" stroke-width="0.25">5</text>
<path d="M420.2 306.42 L419.4 311.51 L418.6 319.52 L417.8 327.97 L417 336.83 L416.2 345.8 L415.4 353.76 L414.6 361.22 L413.8 366.68 L413 371.45 L412.2 374.25 L411.4 376.29 L410.6 378.23" fill="none" stroke="#111" stroke-width="1.3" stroke-dasharray="3 2.4" stroke-linejoin="round"/>
<path d="M420.2 306.42 L421 307.12 L421.8 309.64 L422.6 318.69 L423.4 329.63 L424.2 340.92 L425 351.37 L425.8 360.67 L426.6 367.72 L427.4 372.24 L428.2 375.47 L429 376.66 L429.8 377.66" fill="none" stroke="#111" stroke-width="1.3" stroke-dasharray="3 2.4" stroke-linejoin="round"/>
<path d="M410.6 378.2 L411.4 376.3 L412.2 374.59 L413 370.74 L413.8 366.61 L414.6 359.86 L415.4 352.71 L416.2 343.75 L417 333.89 L417.8 324.12 L418.6 316.33 L419.4 309.27 L420.2 304.32 L421 306.04 L421.8 312.49 L422.6 321.72 L423.4 332.75 L424.2 343.57 L425 354.51 L425.8 362.05 L426.6 368.96 L427.4 372.63 L428.2 375.78 L429 376.59 L429.8 377.27 L430.6 377.69 L431.4 378.11 L432.2 378.48" fill="none" stroke="#000" stroke-width="1.5" stroke-linejoin="round" stroke-linecap="round"/></g>
<g><line x1="100" y1="436.3" x2="100" y2="581.5" stroke="#000" stroke-width="1.3"/>
<line x1="95.8" y1="580.8" x2="485.2" y2="580.8" stroke="#000" stroke-width="1.4"/>
<line x1="95.8" y1="580.8" x2="100" y2="580.8" stroke="#000" stroke-width="1.3"/>
<text x="93.8" y="584.6" text-anchor="end" font-size="10" font-weight="bold" stroke="#000" stroke-width="0.3">0</text>
<line x1="95.8" y1="544.82" x2="100" y2="544.82" stroke="#000" stroke-width="1.3"/>
<text x="93.8" y="548.62" text-anchor="end" font-size="10" font-weight="bold" stroke="#000" stroke-width="0.3">1,000</text>
<line x1="95.8" y1="508.85" x2="100" y2="508.85" stroke="#000" stroke-width="1.3"/>
<text x="93.8" y="512.65" text-anchor="end" font-size="10" font-weight="bold" stroke="#000" stroke-width="0.3">2,000</text>
<line x1="95.8" y1="472.88" x2="100" y2="472.88" stroke="#000" stroke-width="1.3"/>
<text x="93.8" y="476.68" text-anchor="end" font-size="10" font-weight="bold" stroke="#000" stroke-width="0.3">3,000</text>
<line x1="95.8" y1="436.9" x2="100" y2="436.9" stroke="#000" stroke-width="1.3"/>
<text x="93.8" y="440.7" text-anchor="end" font-size="10" font-weight="bold" stroke="#000" stroke-width="0.3">4,000</text>
<text transform="translate(60.9 605.9) rotate(-90)" font-size="13.9" stroke="#000" stroke-width="0.2">BCMA copies/10<tspan dy="-5.4" font-size="9" font-weight="bold" stroke-width="0">5</tspan><tspan dy="5.4"> actin copies</tspan></text>
<line x1="108.5" y1="580.8" x2="108.5" y2="585.8" stroke="#000" stroke-width="1.3"/>
<rect x="102.3" y="453.77" width="12.5" height="127.03" fill="#000"/>
<text transform="translate(110.9 595.6) rotate(-45)" text-anchor="end" font-size="11" font-weight="bold" stroke="#000" stroke-width="0.2">Plasmacytoma</text>
<line x1="125.27" y1="580.8" x2="125.27" y2="585.8" stroke="#000" stroke-width="1.3"/>
<text transform="translate(127.67 595.6) rotate(-45)" text-anchor="end" font-size="11" font-weight="bold" stroke="#000" stroke-width="0.2">Adrenal</text>
<line x1="142.04" y1="580.8" x2="142.04" y2="585.8" stroke="#000" stroke-width="1.3"/>
<rect x="135.84" y="579.18" width="12.5" height="1.62" fill="#000"/>
<text transform="translate(144.44 595.6) rotate(-45)" text-anchor="end" font-size="11" font-weight="bold" stroke="#000" stroke-width="0.2">Bone marrow</text>
<line x1="158.81" y1="580.8" x2="158.81" y2="585.8" stroke="#000" stroke-width="1.3"/>
<text transform="translate(161.21 595.6) rotate(-45)" text-anchor="end" font-size="11" font-weight="bold" stroke="#000" stroke-width="0.2">Brain</text>
<line x1="175.58" y1="580.8" x2="175.58" y2="585.8" stroke="#000" stroke-width="1.3"/>
<rect x="169.38" y="579.9" width="12.5" height="0.9" fill="#000"/>
<text transform="translate(177.98 595.6) rotate(-45)" text-anchor="end" font-size="11" font-weight="bold" stroke="#000" stroke-width="0.2">Cervix</text>
<line x1="192.35" y1="580.8" x2="192.35" y2="585.8" stroke="#000" stroke-width="1.3"/>
<rect x="186.15" y="579.9" width="12.5" height="0.9" fill="#000"/>
<text transform="translate(194.75 595.6) rotate(-45)" text-anchor="end" font-size="11" font-weight="bold" stroke="#000" stroke-width="0.2">Colon</text>
<line x1="209.12" y1="580.8" x2="209.12" y2="585.8" stroke="#000" stroke-width="1.3"/>
<rect x="202.92" y="576.3" width="12.5" height="4.5" fill="#000"/>
<text transform="translate(211.52 595.6) rotate(-45)" text-anchor="end" font-size="11" font-weight="bold" stroke="#000" stroke-width="0.2">Duodenum</text>
<line x1="225.89" y1="580.8" x2="225.89" y2="585.8" stroke="#000" stroke-width="1.3"/>
<text transform="translate(228.29 595.6) rotate(-45)" text-anchor="end" font-size="11" font-weight="bold" stroke="#000" stroke-width="0.2">Epididymus</text>
<line x1="242.66" y1="580.8" x2="242.66" y2="585.8" stroke="#000" stroke-width="1.3"/>
<text transform="translate(245.06 595.6) rotate(-45)" text-anchor="end" font-size="11" font-weight="bold" stroke="#000" stroke-width="0.2">Esophagus</text>
<line x1="259.43" y1="580.8" x2="259.43" y2="585.8" stroke="#000" stroke-width="1.3"/>
<text transform="translate(261.83 595.6) rotate(-45)" text-anchor="end" font-size="11" font-weight="bold" stroke="#000" stroke-width="0.2">Fat</text>
<line x1="276.2" y1="580.8" x2="276.2" y2="585.8" stroke="#000" stroke-width="1.3"/>
<text transform="translate(278.6 595.6) rotate(-45)" text-anchor="end" font-size="11" font-weight="bold" stroke="#000" stroke-width="0.2">Heart</text>
<line x1="292.97" y1="580.8" x2="292.97" y2="585.8" stroke="#000" stroke-width="1.3"/>
<rect x="286.77" y="578.82" width="12.5" height="1.98" fill="#000"/>
<text transform="translate(295.37 595.6) rotate(-45)" text-anchor="end" font-size="11" font-weight="bold" stroke="#000" stroke-width="0.2">Small intestine</text>
<line x1="309.74" y1="580.8" x2="309.74" y2="585.8" stroke="#000" stroke-width="1.3"/>
<text transform="translate(312.14 595.6) rotate(-45)" text-anchor="end" font-size="11" font-weight="bold" stroke="#000" stroke-width="0.2">Intracranial artery</text>
<line x1="326.51" y1="580.8" x2="326.51" y2="585.8" stroke="#000" stroke-width="1.3"/>
<text transform="translate(328.91 595.6) rotate(-45)" text-anchor="end" font-size="11" font-weight="bold" stroke="#000" stroke-width="0.2">Kidney</text>
<line x1="343.28" y1="580.8" x2="343.28" y2="585.8" stroke="#000" stroke-width="1.3"/>
<text transform="translate(345.68 595.6) rotate(-45)" text-anchor="end" font-size="11" font-weight="bold" stroke="#000" stroke-width="0.2">Liver</text>
<line x1="360.05" y1="580.8" x2="360.05" y2="585.8" stroke="#000" stroke-width="1.3"/>
<text transform="translate(362.45 595.6) rotate(-45)" text-anchor="end" font-size="11" font-weight="bold" stroke="#000" stroke-width="0.2">Lung</text>
<line x1="376.82" y1="580.8" x2="376.82" y2="585.8" stroke="#000" stroke-width="1.3"/>
<rect x="370.62" y="575.4" width="12.5" height="5.4" fill="#000"/>
<text transform="translate(379.22 595.6) rotate(-45)" text-anchor="end" font-size="11" font-weight="bold" stroke="#000" stroke-width="0.2">Lymph node</text>
<line x1="393.59" y1="580.8" x2="393.59" y2="585.8" stroke="#000" stroke-width="1.3"/>
<rect x="387.39" y="575.4" width="12.5" height="5.4" fill="#000"/>
<text transform="translate(395.99 595.6) rotate(-45)" text-anchor="end" font-size="11" font-weight="bold" stroke="#000" stroke-width="0.2">Blood leucocytes</text>
<line x1="410.36" y1="580.8" x2="410.36" y2="585.8" stroke="#000" stroke-width="1.3"/>
<text transform="translate(412.76 595.6) rotate(-45)" text-anchor="end" font-size="11" font-weight="bold" stroke="#000" stroke-width="0.2">Mammary gland</text>
<line x1="427.13" y1="580.8" x2="427.13" y2="585.8" stroke="#000" stroke-width="1.3"/>
<text transform="translate(429.53 595.6) rotate(-45)" text-anchor="end" font-size="11" font-weight="bold" stroke="#000" stroke-width="0.2">Optic nerve</text>
<line x1="443.9" y1="580.8" x2="443.9" y2="585.8" stroke="#000" stroke-width="1.3"/>
<text transform="translate(446.3 595.6) rotate(-45)" text-anchor="end" font-size="11" font-weight="bold" stroke="#000" stroke-width="0.2">Ovary</text>
<line x1="460.67" y1="580.8" x2="460.67" y2="585.8" stroke="#000" stroke-width="1.3"/>
<text transform="translate(463.07 595.6) rotate(-45)" text-anchor="end" font-size="11" font-weight="bold" stroke="#000" stroke-width="0.2">Oviduct</text>
<line x1="477.44" y1="580.8" x2="477.44" y2="585.8" stroke="#000" stroke-width="1.3"/>
<text transform="translate(479.84 595.6) rotate(-45)" text-anchor="end" font-size="11" font-weight="bold" stroke="#000" stroke-width="0.2">Pancreas</text></g>
<g><line x1="100" y1="693.7" x2="100" y2="838.2" stroke="#000" stroke-width="1.3"/>
<line x1="95.8" y1="837.5" x2="491.5" y2="837.5" stroke="#000" stroke-width="1.4"/>
<line x1="95.8" y1="837.5" x2="100" y2="837.5" stroke="#000" stroke-width="1.3"/>
<text x="93.8" y="841.3" text-anchor="end" font-size="10" font-weight="bold" stroke="#000" stroke-width="0.3">0</text>
<line x1="95.8" y1="801.7" x2="100" y2="801.7" stroke="#000" stroke-width="1.3"/>
<text x="93.8" y="805.5" text-anchor="end" font-size="10" font-weight="bold" stroke="#000" stroke-width="0.3">1,000</text>
<line x1="95.8" y1="765.9" x2="100" y2="765.9" stroke="#000" stroke-width="1.3"/>
<text x="93.8" y="769.7" text-anchor="end" font-size="10" font-weight="bold" stroke="#000" stroke-width="0.3">2,000</text>
<line x1="95.8" y1="730.1" x2="100" y2="730.1" stroke="#000" stroke-width="1.3"/>
<text x="93.8" y="733.9" text-anchor="end" font-size="10" font-weight="bold" stroke="#000" stroke-width="0.3">3,000</text>
<line x1="95.8" y1="694.3" x2="100" y2="694.3" stroke="#000" stroke-width="1.3"/>
<text x="93.8" y="698.1" text-anchor="end" font-size="10" font-weight="bold" stroke="#000" stroke-width="0.3">4,000</text>
<text transform="translate(60.9 862.4) rotate(-90)" font-size="13.9" stroke="#000" stroke-width="0.2">BCMA copies/10<tspan dy="-5.4" font-size="9" font-weight="bold" stroke-width="0">5</tspan><tspan dy="5.4"> actin copies</tspan></text>
<line x1="108.5" y1="837.5" x2="108.5" y2="842.5" stroke="#000" stroke-width="1.3"/>
<rect x="102.3" y="710.8" width="12.5" height="126.7" fill="#000"/>
<text transform="translate(110.9 852.3) rotate(-45)" text-anchor="end" font-size="11" font-weight="bold" stroke="#000" stroke-width="0.2">Plasmacytoma</text>
<line x1="125.38" y1="837.5" x2="125.38" y2="842.5" stroke="#000" stroke-width="1.3"/>
<text transform="translate(127.78 852.3) rotate(-45)" text-anchor="end" font-size="11" font-weight="bold" stroke="#000" stroke-width="0.2">Penis</text>
<line x1="142.25" y1="837.5" x2="142.25" y2="842.5" stroke="#000" stroke-width="1.3"/>
<text transform="translate(144.65 852.3) rotate(-45)" text-anchor="end" font-size="11" font-weight="bold" stroke="#000" stroke-width="0.2">Pituitary</text>
<line x1="159.13" y1="837.5" x2="159.13" y2="842.5" stroke="#000" stroke-width="1.3"/>
<text transform="translate(161.53 852.3) rotate(-45)" text-anchor="end" font-size="11" font-weight="bold" stroke="#000" stroke-width="0.2">Placenta</text>
<line x1="176.01" y1="837.5" x2="176.01" y2="842.5" stroke="#000" stroke-width="1.3"/>
<text transform="translate(178.41 852.3) rotate(-45)" text-anchor="end" font-size="11" font-weight="bold" stroke="#000" stroke-width="0.2">Prostate</text>
<line x1="192.88" y1="837.5" x2="192.88" y2="842.5" stroke="#000" stroke-width="1.3"/>
<rect x="186.69" y="832.13" width="12.5" height="5.37" fill="#000"/>
<text transform="translate(195.28 852.3) rotate(-45)" text-anchor="end" font-size="11" font-weight="bold" stroke="#000" stroke-width="0.2">Rectum</text>
<line x1="209.76" y1="837.5" x2="209.76" y2="842.5" stroke="#000" stroke-width="1.3"/>
<text transform="translate(212.16 852.3) rotate(-45)" text-anchor="end" font-size="11" font-weight="bold" stroke="#000" stroke-width="0.2">Retina</text>
<line x1="226.64" y1="837.5" x2="226.64" y2="842.5" stroke="#000" stroke-width="1.3"/>
<text transform="translate(229.04 852.3) rotate(-45)" text-anchor="end" font-size="11" font-weight="bold" stroke="#000" stroke-width="0.2">Seminal vesicles</text>
<line x1="243.52" y1="837.5" x2="243.52" y2="842.5" stroke="#000" stroke-width="1.3"/>
<text transform="translate(245.92 852.3) rotate(-45)" text-anchor="end" font-size="11" font-weight="bold" stroke="#000" stroke-width="0.2">Skin</text>
<line x1="260.39" y1="837.5" x2="260.39" y2="842.5" stroke="#000" stroke-width="1.3"/>
<text transform="translate(262.79 852.3) rotate(-45)" text-anchor="end" font-size="11" font-weight="bold" stroke="#000" stroke-width="0.2">Spinal cord</text>
<line x1="277.27" y1="837.5" x2="277.27" y2="842.5" stroke="#000" stroke-width="1.3"/>
<rect x="271.07" y="836.43" width="12.5" height="1.07" fill="#000"/>
<text transform="translate(279.67 852.3) rotate(-45)" text-anchor="end" font-size="11" font-weight="bold" stroke="#000" stroke-width="0.2">Spleen</text>
<line x1="294.15" y1="837.5" x2="294.15" y2="842.5" stroke="#000" stroke-width="1.3"/>
<rect x="287.95" y="830.34" width="12.5" height="7.16" fill="#000"/>
<text transform="translate(296.55 852.3) rotate(-45)" text-anchor="end" font-size="11" font-weight="bold" stroke="#000" stroke-width="0.2">Stomach</text>
<line x1="311.02" y1="837.5" x2="311.02" y2="842.5" stroke="#000" stroke-width="1.3"/>
<rect x="304.82" y="835.89" width="12.5" height="1.61" fill="#000"/>
<text transform="translate(313.42 852.3) rotate(-45)" text-anchor="end" font-size="11" font-weight="bold" stroke="#000" stroke-width="0.2">Testis</text>
<line x1="327.9" y1="837.5" x2="327.9" y2="842.5" stroke="#000" stroke-width="1.3"/>
<rect x="321.7" y="835.89" width="12.5" height="1.61" fill="#000"/>
<text transform="translate(330.3 852.3) rotate(-45)" text-anchor="end" font-size="11" font-weight="bold" stroke="#000" stroke-width="0.2">Thymus</text>
<line x1="344.78" y1="837.5" x2="344.78" y2="842.5" stroke="#000" stroke-width="1.3"/>
<text transform="translate(347.18 852.3) rotate(-45)" text-anchor="end" font-size="11" font-weight="bold" stroke="#000" stroke-width="0.2">Thyroid</text>
<line x1="361.65" y1="837.5" x2="361.65" y2="842.5" stroke="#000" stroke-width="1.3"/>
<rect x="355.45" y="823.18" width="12.5" height="14.32" fill="#000"/>
<text transform="translate(364.05 852.3) rotate(-45)" text-anchor="end" font-size="11" font-weight="bold" stroke="#000" stroke-width="0.2">Tonsil</text>
<line x1="378.53" y1="837.5" x2="378.53" y2="842.5" stroke="#000" stroke-width="1.3"/>
<rect x="372.33" y="834.64" width="12.5" height="2.86" fill="#000"/>
<text transform="translate(380.93 852.3) rotate(-45)" text-anchor="end" font-size="11" font-weight="bold" stroke="#000" stroke-width="0.2">Trachea</text>
<line x1="395.41" y1="837.5" x2="395.41" y2="842.5" stroke="#000" stroke-width="1.3"/>
<text transform="translate(397.81 852.3) rotate(-45)" text-anchor="end" font-size="11" font-weight="bold" stroke="#000" stroke-width="0.2">Urethra</text>
<line x1="412.29" y1="837.5" x2="412.29" y2="842.5" stroke="#000" stroke-width="1.3"/>
<text transform="translate(414.69 852.3) rotate(-45)" text-anchor="end" font-size="11" font-weight="bold" stroke="#000" stroke-width="0.2">Bladder</text>
<line x1="429.16" y1="837.5" x2="429.16" y2="842.5" stroke="#000" stroke-width="1.3"/>
<text transform="translate(431.56 852.3) rotate(-45)" text-anchor="end" font-size="11" font-weight="bold" stroke="#000" stroke-width="0.2">Uterus</text>
<line x1="446.04" y1="837.5" x2="446.04" y2="842.5" stroke="#000" stroke-width="1.3"/>
<rect x="439.84" y="835.53" width="12.5" height="1.97" fill="#000"/>
<text transform="translate(448.44 852.3) rotate(-45)" text-anchor="end" font-size="11" font-weight="bold" stroke="#000" stroke-width="0.2">Uvula</text>
<line x1="462.92" y1="837.5" x2="462.92" y2="842.5" stroke="#000" stroke-width="1.3"/>
<text transform="translate(465.32 852.3) rotate(-45)" text-anchor="end" font-size="11" font-weight="bold" stroke="#000" stroke-width="0.2">Vagina</text>
<line x1="479.79" y1="837.5" x2="479.79" y2="842.5" stroke="#000" stroke-width="1.3"/>
<text transform="translate(482.19 852.3) rotate(-45)" text-anchor="end" font-size="11" font-weight="bold" stroke="#000" stroke-width="0.2">Vena cava</text></g>
<g fill="#666"><rect x="0" y="0" width="520" height="1.3"/><rect x="0" y="0" width="1.6" height="931"/><rect x="518.2" y="0" width="1.8" height="931"/><rect x="0" y="928.9" width="520" height="2.1"/></g>
</svg>
</body></html>
